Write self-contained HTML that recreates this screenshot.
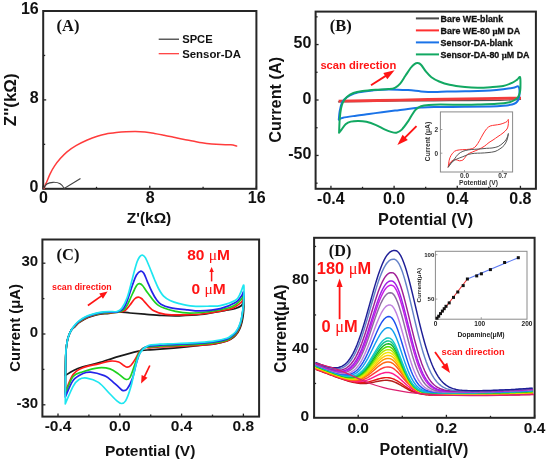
<!DOCTYPE html>
<html><head><meta charset="utf-8"><style>
html,body{margin:0;padding:0;background:#fff;}
svg{display:block;will-change:transform;}
</style></head><body>
<svg width="550" height="462" viewBox="0 0 550 462">
<defs><clipPath id="clipD"><rect x="315.5" y="239" width="218.5" height="178"/></clipPath></defs>
<rect width="550" height="462" fill="#fff"/>
<rect x="43.2" y="11.0" width="213.2" height="177.8" fill="none" stroke="#262626" stroke-width="2"/>
<line x1="43.20" y1="188.8" x2="43.20" y2="185.8" stroke="#262626" stroke-width="1.3"/>
<line x1="43.2" y1="188.80" x2="46.2" y2="188.80" stroke="#262626" stroke-width="1.3"/>
<line x1="96.50" y1="188.8" x2="96.50" y2="186.8" stroke="#262626" stroke-width="1.3"/>
<line x1="43.2" y1="144.35" x2="45.2" y2="144.35" stroke="#262626" stroke-width="1.3"/>
<line x1="149.80" y1="188.8" x2="149.80" y2="185.8" stroke="#262626" stroke-width="1.3"/>
<line x1="43.2" y1="99.90" x2="46.2" y2="99.90" stroke="#262626" stroke-width="1.3"/>
<line x1="203.10" y1="188.8" x2="203.10" y2="186.8" stroke="#262626" stroke-width="1.3"/>
<line x1="43.2" y1="55.45" x2="45.2" y2="55.45" stroke="#262626" stroke-width="1.3"/>
<line x1="256.40" y1="188.8" x2="256.40" y2="185.8" stroke="#262626" stroke-width="1.3"/>
<line x1="43.2" y1="11.00" x2="46.2" y2="11.00" stroke="#262626" stroke-width="1.3"/>
<text x="43.5" y="203.4" font-family="Liberation Sans" font-size="16" font-weight="bold" fill="#111" text-anchor="middle" >0</text>
<text x="150.1" y="203.4" font-family="Liberation Sans" font-size="16" font-weight="bold" fill="#111" text-anchor="middle" >8</text>
<text x="256.7" y="203.4" font-family="Liberation Sans" font-size="16" font-weight="bold" fill="#111" text-anchor="middle" >16</text>
<text x="38.7" y="14.2" font-family="Liberation Sans" font-size="16" font-weight="bold" fill="#111" text-anchor="end" >16</text>
<text x="38.7" y="103.4" font-family="Liberation Sans" font-size="16" font-weight="bold" fill="#111" text-anchor="end" >8</text>
<text x="38.5" y="191.6" font-family="Liberation Sans" font-size="16" font-weight="bold" fill="#111" text-anchor="end" >0</text>
<text x="149.0" y="223" font-family="Liberation Sans" font-size="15.5" font-weight="bold" fill="#111" text-anchor="middle" >Z'(k&#937;)</text>
<text x="16.3" y="99.8" font-family="Liberation Sans" font-size="17" font-weight="bold" fill="#111" text-anchor="middle" transform="rotate(-90 16.3 99.8)" >Z''(k&#937;)</text>
<text x="56.5" y="31.1" font-family="Liberation Serif" font-size="16.5" font-weight="bold" fill="#111" text-anchor="start" >(A)</text>
<line x1="158.7" y1="39.2" x2="179" y2="39.2" stroke="#333" stroke-width="1.2"/>
<line x1="158.7" y1="53.7" x2="179" y2="53.7" stroke="#f33" stroke-width="1.2"/>
<text x="182.2" y="42.5" font-family="Liberation Sans" font-size="11.2" font-weight="bold" fill="#111" text-anchor="start" >SPCE</text>
<text x="182.2" y="57.9" font-family="Liberation Sans" font-size="11.4" font-weight="bold" fill="#111" text-anchor="start" >Sensor-DA</text>
<path d="M44.20,188.50 C44.37,187.92 44.77,186.13 45.20,185.00 C45.63,183.87 45.98,183.57 46.80,181.70 C47.62,179.83 48.80,176.43 50.10,173.80 C51.40,171.17 52.90,168.43 54.60,165.90 C56.30,163.37 58.23,160.95 60.30,158.60 C62.37,156.25 64.38,153.97 67.00,151.80 C69.62,149.63 72.62,147.57 76.00,145.60 C79.38,143.63 83.75,141.57 87.30,140.00 C90.85,138.43 94.18,137.20 97.30,136.20 C100.42,135.20 102.83,134.60 106.00,134.00 C109.17,133.40 112.97,132.97 116.30,132.60 C119.63,132.23 122.82,131.98 126.00,131.80 C129.18,131.62 132.23,131.47 135.40,131.50 C138.57,131.53 141.82,131.68 145.00,132.00 C148.18,132.32 151.33,132.87 154.50,133.40 C157.67,133.93 160.82,134.57 164.00,135.20 C167.18,135.83 170.43,136.53 173.60,137.20 C176.77,137.87 179.82,138.57 183.00,139.20 C186.18,139.83 189.53,140.40 192.70,141.00 C195.87,141.60 198.82,142.30 202.00,142.80 C205.18,143.30 208.63,143.70 211.80,144.00 C214.97,144.30 217.83,144.47 221.00,144.60 C224.17,144.73 228.20,144.57 230.80,144.80 C233.40,145.03 235.63,145.80 236.60,146.00" stroke="#ff3c3c" stroke-width="1.5" fill="none" stroke-linejoin="round" stroke-linecap="round" />
<path d="M44,188.4 C45.5,181 60,179.5 64.2,188.4 L80.5,178.5" stroke="#444" stroke-width="1.2" fill="none"/>
<rect x="315.6" y="11.6" width="220.29999999999995" height="177.20000000000002" fill="none" stroke="#262626" stroke-width="2"/>
<line x1="330.94" y1="188.8" x2="330.94" y2="185.8" stroke="#262626" stroke-width="1.3"/>
<line x1="362.52" y1="188.8" x2="362.52" y2="186.8" stroke="#262626" stroke-width="1.3"/>
<line x1="394.10" y1="188.8" x2="394.10" y2="185.8" stroke="#262626" stroke-width="1.3"/>
<line x1="425.68" y1="188.8" x2="425.68" y2="186.8" stroke="#262626" stroke-width="1.3"/>
<line x1="457.26" y1="188.8" x2="457.26" y2="185.8" stroke="#262626" stroke-width="1.3"/>
<line x1="488.84" y1="188.8" x2="488.84" y2="186.8" stroke="#262626" stroke-width="1.3"/>
<line x1="520.42" y1="188.8" x2="520.42" y2="185.8" stroke="#262626" stroke-width="1.3"/>
<line x1="315.6" y1="183.18" x2="317.6" y2="183.18" stroke="#262626" stroke-width="1.3"/>
<line x1="315.6" y1="155.45" x2="318.6" y2="155.45" stroke="#262626" stroke-width="1.3"/>
<line x1="315.6" y1="127.72" x2="317.6" y2="127.72" stroke="#262626" stroke-width="1.3"/>
<line x1="315.6" y1="100.00" x2="318.6" y2="100.00" stroke="#262626" stroke-width="1.3"/>
<line x1="315.6" y1="72.28" x2="317.6" y2="72.28" stroke="#262626" stroke-width="1.3"/>
<line x1="315.6" y1="44.55" x2="318.6" y2="44.55" stroke="#262626" stroke-width="1.3"/>
<line x1="315.6" y1="16.83" x2="317.6" y2="16.83" stroke="#262626" stroke-width="1.3"/>
<text x="330.9" y="203.9" font-family="Liberation Sans" font-size="16" font-weight="bold" fill="#111" text-anchor="middle" >-0.4</text>
<text x="394.1" y="203.9" font-family="Liberation Sans" font-size="16" font-weight="bold" fill="#111" text-anchor="middle" >0.0</text>
<text x="457.3" y="203.9" font-family="Liberation Sans" font-size="16" font-weight="bold" fill="#111" text-anchor="middle" >0.4</text>
<text x="520.4" y="203.9" font-family="Liberation Sans" font-size="16" font-weight="bold" fill="#111" text-anchor="middle" >0.8</text>
<text x="311.4" y="48.1" font-family="Liberation Sans" font-size="16" font-weight="bold" fill="#111" text-anchor="end" >50</text>
<text x="311.4" y="103.6" font-family="Liberation Sans" font-size="16" font-weight="bold" fill="#111" text-anchor="end" >0</text>
<text x="311.4" y="159.0" font-family="Liberation Sans" font-size="16" font-weight="bold" fill="#111" text-anchor="end" >-50</text>
<text x="425.6" y="224.6" font-family="Liberation Sans" font-size="16.3" font-weight="bold" fill="#111" text-anchor="middle" >Potential (V)</text>
<text x="281.2" y="99.8" font-family="Liberation Sans" font-size="16.3" font-weight="bold" fill="#111" text-anchor="middle" transform="rotate(-90 281.2 99.8)" >Current (A)</text>
<text x="329.8" y="30.9" font-family="Liberation Serif" font-size="16.5" font-weight="bold" fill="#111" text-anchor="start" >(B)</text>
<line x1="415.9" y1="18.40" x2="439.0" y2="18.40" stroke="#4a4a4a" stroke-width="2"/>
<text x="440.6" y="21.50" font-family="Liberation Sans" font-size="8.9" font-weight="bold" fill="#111" text-anchor="start" stroke="#111" stroke-width="0.3">Bare WE-blank</text>
<line x1="415.9" y1="30.40" x2="439.0" y2="30.40" stroke="#ff3030" stroke-width="2"/>
<text x="440.6" y="33.50" font-family="Liberation Sans" font-size="8.9" font-weight="bold" fill="#111" text-anchor="start" stroke="#111" stroke-width="0.3">Bare WE-80 <tspan font-family="Liberation Serif" font-weight="bold">&#956;</tspan>M DA</text>
<line x1="415.9" y1="42.40" x2="439.0" y2="42.40" stroke="#1a73e8" stroke-width="2"/>
<text x="440.6" y="45.50" font-family="Liberation Sans" font-size="8.9" font-weight="bold" fill="#111" text-anchor="start" stroke="#111" stroke-width="0.3">Sensor-DA-blank</text>
<line x1="415.9" y1="54.40" x2="439.0" y2="54.40" stroke="#12a862" stroke-width="2"/>
<text x="440.6" y="57.50" font-family="Liberation Sans" font-size="8.9" font-weight="bold" fill="#111" text-anchor="start" stroke="#111" stroke-width="0.3">Sensor-DA-80 <tspan font-family="Liberation Serif" font-weight="bold">&#956;</tspan>M DA</text>
<text x="320.4" y="69.4" font-family="Liberation Sans" font-size="11.2" font-weight="bold" fill="#ff1414" text-anchor="start" >scan direction</text>
<line x1="371.0" y1="85.2" x2="386.14" y2="75.64" stroke="#ff1414" stroke-width="1.9"/><polygon points="394.60,70.30 387.30,79.34 383.30,73.00" fill="#ff1414"/>
<line x1="416.5" y1="126.1" x2="404.49" y2="138.05" stroke="#ff1414" stroke-width="1.9"/><polygon points="397.40,145.10 402.55,134.68 407.84,140.00" fill="#ff1414"/>
<path d="M338.40,101.80 C348.67,101.67 381.40,101.18 400.00,101.00 C418.60,100.82 433.33,100.82 450.00,100.70 C466.67,100.58 488.25,100.52 500.00,100.30 C511.75,100.08 517.08,99.55 520.50,99.40" stroke="#555" stroke-width="1.2" fill="none" stroke-linejoin="round" stroke-linecap="round" />
<path d="M338.60,101.20 C348.83,101.02 378.93,100.50 400.00,100.10 C421.07,99.70 444.83,99.13 465.00,98.80 C485.17,98.47 511.67,98.22 521.00,98.10" stroke="#f23c3c" stroke-width="2.8" fill="none" stroke-linejoin="round" stroke-linecap="butt" />
<path d="M338.80,119.60 C338.95,118.20 339.22,113.90 339.70,111.20 C340.18,108.50 340.93,105.35 341.70,103.40 C342.47,101.45 343.00,100.80 344.30,99.50 C345.60,98.20 347.12,96.80 349.50,95.60 C351.88,94.40 354.70,93.17 358.60,92.30 C362.50,91.43 367.93,90.88 372.90,90.40 C377.87,89.92 382.55,89.45 388.40,89.40 C394.25,89.35 402.57,89.77 408.00,90.10 C413.43,90.43 416.67,91.08 421.00,91.40 C425.33,91.72 429.67,91.97 434.00,92.00 C438.33,92.03 441.83,91.72 447.00,91.60 C452.17,91.48 459.88,91.38 465.00,91.30 C470.12,91.22 473.45,91.23 477.70,91.10 C481.95,90.97 486.25,90.82 490.50,90.50 C494.75,90.18 499.38,89.67 503.20,89.20 C507.02,88.73 510.85,88.13 513.40,87.70 C515.95,87.27 517.48,85.50 518.50,86.60 C519.52,87.70 519.55,92.07 519.50,94.30 C519.45,96.53 518.80,98.57 518.20,100.00 C517.60,101.43 516.92,102.15 515.90,102.90 C514.88,103.65 514.22,104.03 512.10,104.50 C509.98,104.97 506.80,105.38 503.20,105.70 C499.60,106.02 496.87,106.22 490.50,106.40 C484.13,106.58 474.42,106.70 465.00,106.80 C455.58,106.90 441.33,106.87 434.00,107.00 C426.67,107.13 425.33,107.28 421.00,107.60 C416.67,107.92 412.33,108.40 408.00,108.90 C403.67,109.40 399.33,110.05 395.00,110.60 C390.67,111.15 386.33,111.63 382.00,112.20 C377.67,112.77 373.33,113.42 369.00,114.00 C364.67,114.58 360.33,115.08 356.00,115.70 C351.67,116.32 345.87,117.05 343.00,117.70 C340.13,118.35 339.50,119.28 338.80,119.60" stroke="#1a73e8" stroke-width="2.0" fill="none" stroke-linejoin="round" stroke-linecap="round" />
<path d="M339.10,132.60 C339.20,130.33 339.38,123.00 339.70,119.00 C340.02,115.00 340.45,111.42 341.00,108.60 C341.55,105.78 342.02,104.05 343.00,102.10 C343.98,100.15 345.17,98.42 346.90,96.90 C348.63,95.38 350.80,93.98 353.40,93.00 C356.00,92.02 358.82,91.55 362.50,91.00 C366.18,90.45 371.18,90.02 375.50,89.70 C379.82,89.38 385.17,89.42 388.40,89.10 C391.63,88.78 392.93,88.72 394.90,87.80 C396.87,86.88 398.45,85.60 400.20,83.60 C401.95,81.60 403.67,78.40 405.40,75.80 C407.13,73.20 409.08,69.95 410.60,68.00 C412.12,66.05 413.32,64.92 414.50,64.10 C415.68,63.28 416.62,63.00 417.70,63.10 C418.78,63.20 419.58,63.23 421.00,64.70 C422.42,66.17 424.47,69.82 426.20,71.90 C427.93,73.98 429.23,75.60 431.40,77.20 C433.57,78.80 436.18,80.23 439.20,81.50 C442.22,82.77 445.20,83.88 449.50,84.80 C453.80,85.72 460.30,86.52 465.00,87.00 C469.70,87.48 473.45,87.67 477.70,87.70 C481.95,87.73 486.25,87.48 490.50,87.20 C494.75,86.92 499.60,86.73 503.20,86.00 C506.80,85.27 509.77,83.87 512.10,82.80 C514.43,81.73 515.87,80.52 517.20,79.60 C518.53,78.68 519.57,75.92 520.10,77.30 C520.63,78.68 520.47,85.28 520.40,87.90 C520.33,90.52 520.13,91.40 519.70,93.00 C519.27,94.60 518.65,96.33 517.80,97.50 C516.95,98.67 515.98,99.22 514.60,100.00 C513.22,100.78 512.47,101.57 509.50,102.20 C506.53,102.83 502.10,103.42 496.80,103.80 C491.50,104.18 483.00,104.35 477.70,104.50 C472.40,104.65 471.20,104.68 465.00,104.70 C458.80,104.72 446.53,104.55 440.50,104.60 C434.47,104.65 432.05,104.72 428.80,105.00 C425.55,105.28 423.17,105.55 421.00,106.30 C418.83,107.05 417.32,108.05 415.80,109.50 C414.28,110.95 413.13,113.10 411.90,115.00 C410.67,116.90 410.08,118.47 408.40,120.90 C406.72,123.33 403.80,127.63 401.80,129.60 C399.80,131.57 398.20,132.32 396.40,132.70 C394.60,133.08 392.98,132.45 391.00,131.90 C389.02,131.35 387.08,130.58 384.50,129.40 C381.92,128.22 378.52,126.07 375.50,124.80 C372.48,123.53 369.22,122.45 366.40,121.80 C363.58,121.15 361.20,120.93 358.60,120.90 C356.00,120.87 352.97,121.05 350.80,121.60 C348.63,122.15 347.12,122.90 345.60,124.20 C344.08,125.50 342.78,128.00 341.70,129.40 C340.62,130.80 339.53,132.07 339.10,132.60" stroke="#12a862" stroke-width="2.0" fill="none" stroke-linejoin="round" stroke-linecap="round" />
<rect x="440.4" y="111.9" width="72.20000000000005" height="60.099999999999994" fill="#fff" stroke="#8a8a8a" stroke-width="1"/>
<line x1="440.4" y1="129.5" x2="442.4" y2="129.5" stroke="#888" stroke-width="0.8"/>
<line x1="440.4" y1="153.2" x2="442.4" y2="153.2" stroke="#888" stroke-width="0.8"/>
<line x1="464.5" y1="172.0" x2="464.5" y2="170.0" stroke="#888" stroke-width="0.8"/>
<line x1="502.7" y1="172.0" x2="502.7" y2="170.0" stroke="#888" stroke-width="0.8"/>
<text x="438" y="131.8" font-family="Liberation Sans" font-size="6.5" font-weight="bold" fill="#333" text-anchor="end" >2</text>
<text x="438" y="155.5" font-family="Liberation Sans" font-size="6.5" font-weight="bold" fill="#333" text-anchor="end" >0</text>
<text x="464.5" y="178" font-family="Liberation Sans" font-size="6.5" font-weight="bold" fill="#333" text-anchor="middle" >0.0</text>
<text x="502.7" y="178" font-family="Liberation Sans" font-size="6.5" font-weight="bold" fill="#333" text-anchor="middle" >0.7</text>
<text x="478.5" y="185.3" font-family="Liberation Sans" font-size="6.7" font-weight="bold" fill="#333" text-anchor="middle" >Potential (V)</text>
<text x="429.5" y="141.5" font-family="Liberation Sans" font-size="6.7" font-weight="bold" fill="#333" text-anchor="middle" transform="rotate(-90 429.5 141.5)" >Current (&#956;A)</text>
<path d="M448.30,166.80 C448.45,165.70 448.75,162.08 449.20,160.20 C449.65,158.32 450.12,156.98 451.00,155.50 C451.88,154.02 453.12,152.23 454.50,151.30 C455.88,150.37 457.32,150.20 459.30,149.90 C461.28,149.60 464.22,149.72 466.40,149.50 C468.58,149.28 470.80,149.18 472.40,148.60 C474.00,148.02 474.82,147.33 476.00,146.00 C477.18,144.67 478.32,142.60 479.50,140.60 C480.68,138.60 481.90,135.98 483.10,134.00 C484.30,132.02 485.52,130.03 486.70,128.70 C487.88,127.37 488.82,126.60 490.20,126.00 C491.58,125.40 493.37,125.38 495.00,125.10 C496.63,124.82 498.50,124.65 500.00,124.30 C501.50,123.95 502.83,123.47 504.00,123.00 C505.17,122.53 506.27,122.08 507.00,121.50 C507.73,120.92 508.20,118.92 508.40,119.50 C508.60,120.08 508.43,123.42 508.20,125.00 C507.97,126.58 507.87,127.67 507.00,129.00 C506.13,130.33 504.50,131.75 503.00,133.00 C501.50,134.25 499.67,135.33 498.00,136.50 C496.33,137.67 494.50,139.00 493.00,140.00 C491.50,141.00 490.45,141.45 489.00,142.50 C487.55,143.55 486.08,145.13 484.30,146.30 C482.52,147.47 480.28,148.55 478.30,149.50 C476.32,150.45 474.18,151.20 472.40,152.00 C470.62,152.80 468.80,153.42 467.60,154.30 C466.40,155.18 465.98,156.35 465.20,157.30 C464.42,158.25 463.88,159.42 462.90,160.00 C461.92,160.58 460.50,160.87 459.30,160.80 C458.10,160.73 456.90,159.60 455.70,159.60 C454.50,159.60 453.08,160.20 452.10,160.80 C451.12,161.40 450.43,162.20 449.80,163.20 C449.17,164.20 448.55,166.20 448.30,166.80" stroke="#ff3030" stroke-width="1.0" fill="none" stroke-linejoin="round" stroke-linecap="round" />
<path d="M448.30,167.00 C448.75,166.37 449.97,164.53 451.00,163.20 C452.03,161.87 453.32,160.48 454.50,159.00 C455.68,157.52 456.70,155.58 458.10,154.30 C459.50,153.02 461.12,152.05 462.90,151.30 C464.68,150.55 466.82,150.13 468.80,149.80 C470.78,149.47 472.82,149.45 474.80,149.30 C476.78,149.15 478.72,149.07 480.70,148.90 C482.68,148.73 484.82,148.45 486.70,148.30 C488.58,148.15 490.08,148.30 492.00,148.00 C493.92,147.70 496.37,147.33 498.20,146.50 C500.03,145.67 501.62,144.25 503.00,143.00 C504.38,141.75 505.60,140.58 506.50,139.00 C507.40,137.42 508.32,133.33 508.40,133.50 C508.48,133.67 507.73,138.00 507.00,140.00 C506.27,142.00 505.17,144.03 504.00,145.50 C502.83,146.97 501.50,147.80 500.00,148.80 C498.50,149.80 497.00,150.87 495.00,151.50 C493.00,152.13 490.38,152.33 488.00,152.60 C485.62,152.87 482.90,152.98 480.70,153.10 C478.50,153.22 476.78,153.10 474.80,153.30 C472.82,153.50 470.78,153.73 468.80,154.30 C466.82,154.87 464.88,155.92 462.90,156.70 C460.92,157.48 458.70,158.12 456.90,159.00 C455.10,159.88 453.53,160.67 452.10,162.00 C450.67,163.33 448.93,166.17 448.30,167.00" stroke="#555" stroke-width="1.0" fill="none" stroke-linejoin="round" stroke-linecap="round" />
<rect x="42.4" y="239.5" width="216.70000000000002" height="177.10000000000002" fill="none" stroke="#262626" stroke-width="2"/>
<line x1="58.00" y1="416.6" x2="58.00" y2="413.6" stroke="#262626" stroke-width="1.3"/>
<line x1="88.90" y1="416.6" x2="88.90" y2="414.6" stroke="#262626" stroke-width="1.3"/>
<line x1="119.80" y1="416.6" x2="119.80" y2="413.6" stroke="#262626" stroke-width="1.3"/>
<line x1="150.70" y1="416.6" x2="150.70" y2="414.6" stroke="#262626" stroke-width="1.3"/>
<line x1="181.60" y1="416.6" x2="181.60" y2="413.6" stroke="#262626" stroke-width="1.3"/>
<line x1="212.50" y1="416.6" x2="212.50" y2="414.6" stroke="#262626" stroke-width="1.3"/>
<line x1="243.40" y1="416.6" x2="243.40" y2="413.6" stroke="#262626" stroke-width="1.3"/>
<line x1="42.4" y1="404.80" x2="45.4" y2="404.80" stroke="#262626" stroke-width="1.3"/>
<line x1="42.4" y1="369.40" x2="44.4" y2="369.40" stroke="#262626" stroke-width="1.3"/>
<line x1="42.4" y1="334.00" x2="45.4" y2="334.00" stroke="#262626" stroke-width="1.3"/>
<line x1="42.4" y1="298.60" x2="44.4" y2="298.60" stroke="#262626" stroke-width="1.3"/>
<line x1="42.4" y1="263.20" x2="45.4" y2="263.20" stroke="#262626" stroke-width="1.3"/>
<text x="58.0" y="431.2" font-family="Liberation Sans" font-size="15.5" font-weight="bold" fill="#111" text-anchor="middle" >-0.4</text>
<text x="119.8" y="431.2" font-family="Liberation Sans" font-size="15.5" font-weight="bold" fill="#111" text-anchor="middle" >0.0</text>
<text x="181.6" y="431.2" font-family="Liberation Sans" font-size="15.5" font-weight="bold" fill="#111" text-anchor="middle" >0.4</text>
<text x="243.4" y="431.2" font-family="Liberation Sans" font-size="15.5" font-weight="bold" fill="#111" text-anchor="middle" >0.8</text>
<text x="38.2" y="266.2" font-family="Liberation Sans" font-size="15" font-weight="bold" fill="#111" text-anchor="end" >30</text>
<text x="38.2" y="337.0" font-family="Liberation Sans" font-size="15" font-weight="bold" fill="#111" text-anchor="end" >0</text>
<text x="38.2" y="407.8" font-family="Liberation Sans" font-size="15" font-weight="bold" fill="#111" text-anchor="end" >-30</text>
<text x="150.1" y="455.8" font-family="Liberation Sans" font-size="15.5" font-weight="bold" fill="#111" text-anchor="middle" >Potential (V)</text>
<text x="19.6" y="327.8" font-family="Liberation Sans" font-size="14.9" font-weight="bold" fill="#111" text-anchor="middle" transform="rotate(-90 19.6 327.8)" >Current (&#956;A)</text>
<text x="56.5" y="260.0" font-family="Liberation Serif" font-size="16.5" font-weight="bold" fill="#111" text-anchor="start" >(C)</text>
<text x="52.0" y="289.5" font-family="Liberation Sans" font-size="8.8" font-weight="bold" fill="#ff1414" text-anchor="start" >scan direction</text>
<line x1="87.9" y1="305.5" x2="101.88" y2="295.64" stroke="#ff1414" stroke-width="1.7"/><polygon points="107.60,291.60 102.94,298.87 99.19,293.56" fill="#ff1414"/>
<line x1="149.8" y1="365.5" x2="144.13" y2="377.29" stroke="#ff1414" stroke-width="1.7"/><polygon points="141.10,383.60 141.64,374.98 147.49,377.80" fill="#ff1414"/>
<text x="208.6" y="260.4" font-family="Liberation Sans" font-size="15.5" font-weight="bold" fill="#ff1414" text-anchor="middle" >80 <tspan font-family="Liberation Serif" font-weight="normal">&#956;</tspan>M</text>
<text x="208.6" y="293.8" font-family="Liberation Sans" font-size="15.5" font-weight="bold" fill="#ff1414" text-anchor="middle" >0 <tspan font-family="Liberation Serif" font-weight="normal">&#956;</tspan>M</text>
<line x1="211.6" y1="281.4" x2="211.60" y2="271.00" stroke="#ff1414" stroke-width="1.5"/><polygon points="211.60,267.00 213.85,272.00 209.35,272.00" fill="#ff1414"/>
<path d="M65.30,375.60 C65.37,372.50 65.50,361.93 65.70,357.00 C65.90,352.07 66.18,348.92 66.50,346.00 C66.82,343.08 67.15,341.42 67.60,339.50 C68.05,337.58 68.55,336.12 69.20,334.50 C69.85,332.88 70.57,331.08 71.50,329.80 C72.43,328.52 73.55,327.98 74.80,326.80 C76.05,325.62 77.30,324.02 79.00,322.70 C80.70,321.38 82.83,319.98 85.00,318.90 C87.17,317.82 89.50,316.98 92.00,316.20 C94.50,315.42 97.17,314.67 100.00,314.20 C102.83,313.73 105.88,313.80 109.00,313.40 C112.12,313.00 115.20,311.87 118.70,311.80 C122.20,311.73 125.68,312.60 130.00,313.00 C134.32,313.40 139.28,313.78 144.60,314.20 C149.92,314.62 156.13,315.23 161.90,315.50 C167.67,315.77 172.70,315.97 179.20,315.80 C185.70,315.63 193.33,315.37 200.90,314.50 C208.47,313.63 218.83,311.60 224.60,310.60 C230.37,309.60 232.68,309.35 235.50,308.50 C238.32,307.65 240.17,306.58 241.50,305.50 C242.83,304.42 243.13,301.25 243.50,302.00 C243.87,302.75 243.83,307.25 243.70,310.00 C243.57,312.75 243.20,315.75 242.70,318.50 C242.20,321.25 241.52,324.17 240.70,326.50 C239.88,328.83 239.00,330.70 237.80,332.50 C236.60,334.30 235.30,335.88 233.50,337.30 C231.70,338.72 230.08,339.92 227.00,341.00 C223.92,342.08 219.50,343.07 215.00,343.80 C210.50,344.53 204.77,344.87 200.00,345.40 C195.23,345.93 193.07,346.37 186.40,347.00 C179.73,347.63 166.07,348.73 160.00,349.20 C153.93,349.67 153.75,349.45 150.00,349.80 C146.25,350.15 142.83,350.17 137.50,351.30 C132.17,352.43 124.50,354.67 118.00,356.60 C111.50,358.53 104.35,361.20 98.50,362.90 C92.65,364.60 87.13,365.50 82.90,366.80 C78.67,368.10 76.03,369.23 73.10,370.70 C70.17,372.17 66.60,374.78 65.30,375.60" stroke="#1a1a1a" stroke-width="1.7" fill="none" stroke-linejoin="round" stroke-linecap="round" />
<path d="M65.30,392.10 C65.37,386.25 65.50,364.68 65.70,357.00 C65.90,349.32 66.18,348.92 66.50,346.00 C66.82,343.08 67.15,341.42 67.60,339.50 C68.05,337.58 68.55,336.12 69.20,334.50 C69.85,332.88 70.57,331.16 71.50,329.80 C72.43,328.44 73.55,327.61 74.80,326.35 C76.05,325.09 77.30,323.57 79.00,322.25 C80.70,320.93 82.83,319.53 85.00,318.45 C87.17,317.37 89.50,316.53 92.00,315.75 C94.50,314.97 97.17,314.22 100.00,313.75 C102.83,313.28 105.97,313.21 109.00,312.95 C112.03,312.69 115.53,312.61 118.20,312.20 C120.87,311.79 123.03,311.70 125.00,310.50 C126.97,309.30 128.42,306.92 130.00,305.00 C131.58,303.08 133.13,300.32 134.50,299.00 C135.87,297.68 137.03,297.18 138.20,297.10 C139.37,297.02 140.43,297.70 141.50,298.50 C142.57,299.30 142.63,299.88 144.60,301.90 C146.57,303.92 149.83,308.53 153.30,310.60 C156.77,312.67 159.28,313.62 165.40,314.30 C171.52,314.98 182.57,314.92 190.00,314.70 C197.43,314.48 203.67,313.87 210.00,313.00 C216.33,312.13 223.75,310.57 228.00,309.50 C232.25,308.43 233.25,307.85 235.50,306.60 C237.75,305.35 240.17,303.30 241.50,302.00 C242.83,300.70 243.13,298.90 243.50,298.80 C243.87,298.70 243.82,299.16 243.70,301.40 C243.58,303.64 243.25,308.64 242.80,312.24 C242.35,315.84 241.70,320.07 241.00,323.00 C240.30,325.93 239.52,327.83 238.60,329.80 C237.68,331.77 236.77,333.33 235.50,334.80 C234.23,336.27 232.47,337.57 231.00,338.60 C229.53,339.63 229.37,340.17 226.70,341.00 C224.03,341.83 219.45,342.92 215.00,343.60 C210.55,344.28 206.28,344.65 200.00,345.10 C193.72,345.55 183.97,345.98 177.30,346.30 C170.63,346.62 164.55,346.75 160.00,347.00 C155.45,347.25 152.33,347.72 150.00,347.80 C147.67,347.88 147.18,347.37 146.00,347.50 C144.82,347.63 144.00,347.92 142.90,348.60 C141.80,349.28 140.70,349.80 139.40,351.60 C138.10,353.40 136.53,357.08 135.10,359.40 C133.67,361.72 132.10,364.20 130.80,365.50 C129.50,366.80 128.47,367.20 127.30,367.20 C126.13,367.20 125.23,366.37 123.80,365.50 C122.37,364.63 121.00,362.73 118.70,362.00 C116.40,361.27 113.37,360.78 110.00,361.10 C106.63,361.42 103.02,362.78 98.50,363.90 C93.98,365.02 87.13,366.02 82.90,367.80 C78.67,369.58 76.03,370.55 73.10,374.60 C70.17,378.65 66.60,389.18 65.30,392.10" stroke="#ff1a1a" stroke-width="1.7" fill="none" stroke-linejoin="round" stroke-linecap="round" />
<path d="M65.30,394.10 C65.37,387.92 65.50,365.02 65.70,357.00 C65.90,348.98 66.18,348.92 66.50,346.00 C66.82,343.08 67.15,341.42 67.60,339.50 C68.05,337.58 68.55,336.12 69.20,334.50 C69.85,332.88 70.57,331.23 71.50,329.80 C72.43,328.37 73.55,327.23 74.80,325.90 C76.05,324.57 77.30,323.12 79.00,321.80 C80.70,320.48 82.83,319.08 85.00,318.00 C87.17,316.92 89.50,316.08 92.00,315.30 C94.50,314.52 97.17,313.77 100.00,313.30 C102.83,312.83 106.00,312.68 109.00,312.50 C112.00,312.32 115.50,312.70 118.00,312.20 C120.50,311.70 122.45,310.70 124.00,309.50 C125.55,308.30 126.13,307.08 127.30,305.00 C128.47,302.92 129.80,299.58 131.00,297.00 C132.20,294.42 133.50,291.50 134.50,289.50 C135.50,287.50 136.18,285.97 137.00,285.00 C137.82,284.03 138.48,283.62 139.40,283.70 C140.32,283.78 141.07,283.90 142.50,285.50 C143.93,287.10 145.35,289.98 148.00,293.30 C150.65,296.62 153.78,302.38 158.40,305.40 C163.02,308.42 170.43,310.10 175.70,311.40 C180.97,312.70 184.28,313.18 190.00,313.20 C195.72,313.22 203.67,312.37 210.00,311.50 C216.33,310.63 223.75,309.12 228.00,308.00 C232.25,306.88 233.25,306.30 235.50,304.80 C237.75,303.30 240.17,300.63 241.50,299.00 C242.83,297.37 243.13,294.68 243.50,295.00 C243.87,295.32 243.82,298.20 243.70,300.95 C243.58,303.70 243.25,308.00 242.80,311.52 C242.35,315.04 241.70,319.20 241.00,322.10 C240.30,325.00 239.52,326.93 238.60,328.90 C237.68,330.87 236.77,332.43 235.50,333.90 C234.23,335.37 232.47,336.67 231.00,337.70 C229.53,338.73 229.37,339.27 226.70,340.10 C224.03,340.93 219.45,342.02 215.00,342.70 C210.55,343.38 206.28,343.75 200.00,344.20 C193.72,344.65 183.97,345.08 177.30,345.40 C170.63,345.72 164.55,345.85 160.00,346.10 C155.45,346.35 152.33,346.72 150.00,346.90 C147.67,347.08 147.18,346.95 146.00,347.20 C144.82,347.45 144.15,347.23 142.90,348.40 C141.65,349.57 139.95,351.22 138.50,354.20 C137.05,357.18 135.63,362.40 134.20,366.30 C132.77,370.20 131.33,375.43 129.90,377.60 C128.47,379.77 127.47,379.88 125.60,379.30 C123.73,378.72 121.30,375.83 118.70,374.10 C116.10,372.37 113.37,369.95 110.00,368.90 C106.63,367.85 103.02,367.33 98.50,367.80 C93.98,368.27 87.13,370.25 82.90,371.70 C78.67,373.15 76.03,372.77 73.10,376.50 C70.17,380.23 66.60,391.17 65.30,394.10" stroke="#1fd21f" stroke-width="1.7" fill="none" stroke-linejoin="round" stroke-linecap="round" />
<path d="M65.30,397.00 C65.37,390.33 65.50,365.50 65.70,357.00 C65.90,348.50 66.18,348.92 66.50,346.00 C66.82,343.08 67.15,341.42 67.60,339.50 C68.05,337.58 68.55,336.12 69.20,334.50 C69.85,332.88 70.57,331.31 71.50,329.80 C72.43,328.29 73.55,326.86 74.80,325.45 C76.05,324.04 77.30,322.67 79.00,321.35 C80.70,320.03 82.83,318.63 85.00,317.55 C87.17,316.47 89.50,315.63 92.00,314.85 C94.50,314.07 97.17,313.32 100.00,312.85 C102.83,312.38 106.08,312.19 109.00,312.05 C111.92,311.91 115.07,312.64 117.50,312.00 C119.93,311.36 121.93,310.20 123.60,308.20 C125.27,306.20 126.02,303.87 127.50,300.00 C128.98,296.13 131.00,289.17 132.50,285.00 C134.00,280.83 135.12,277.32 136.50,275.00 C137.88,272.68 139.58,271.40 140.80,271.10 C142.02,270.80 142.72,271.50 143.80,273.20 C144.88,274.90 145.97,278.25 147.30,281.30 C148.63,284.35 150.28,288.45 151.80,291.50 C153.32,294.55 154.88,297.48 156.40,299.60 C157.92,301.72 158.63,302.87 160.90,304.20 C163.17,305.53 165.50,306.65 170.00,307.60 C174.50,308.55 182.90,309.35 187.90,309.90 C192.90,310.45 194.60,311.12 200.00,310.90 C205.40,310.68 214.38,309.98 220.30,308.60 C226.22,307.22 231.97,304.70 235.50,302.60 C239.03,300.50 240.17,297.77 241.50,296.00 C242.83,294.23 243.13,291.26 243.50,292.00 C243.87,292.74 243.82,297.33 243.70,300.45 C243.58,303.57 243.25,307.28 242.80,310.72 C242.35,314.16 241.70,318.24 241.00,321.10 C240.30,323.96 239.52,325.93 238.60,327.90 C237.68,329.87 236.77,331.43 235.50,332.90 C234.23,334.37 232.47,335.67 231.00,336.70 C229.53,337.73 229.37,338.27 226.70,339.10 C224.03,339.93 219.45,341.02 215.00,341.70 C210.55,342.38 206.28,342.75 200.00,343.20 C193.72,343.65 183.97,344.08 177.30,344.40 C170.63,344.72 164.55,344.85 160.00,345.10 C155.45,345.35 152.33,345.58 150.00,345.90 C147.67,346.22 147.18,346.53 146.00,347.00 C144.82,347.47 144.00,347.50 142.90,348.70 C141.80,349.90 140.55,351.55 139.40,354.20 C138.25,356.85 137.15,360.57 136.00,364.60 C134.85,368.63 133.95,374.37 132.50,378.40 C131.05,382.43 128.88,386.77 127.30,388.80 C125.72,390.83 124.43,390.88 123.00,390.60 C121.57,390.32 120.87,388.98 118.70,387.10 C116.53,385.22 112.40,381.22 110.00,379.30 C107.60,377.38 107.52,376.78 104.30,375.60 C101.08,374.42 94.27,372.53 90.70,372.20 C87.13,371.87 85.83,372.23 82.90,373.60 C79.97,374.97 76.03,376.50 73.10,380.40 C70.17,384.30 66.60,394.23 65.30,397.00" stroke="#2424e8" stroke-width="1.7" fill="none" stroke-linejoin="round" stroke-linecap="round" />
<path d="M65.30,403.80 C65.37,396.00 65.50,366.63 65.70,357.00 C65.90,347.37 66.18,348.92 66.50,346.00 C66.82,343.08 67.15,341.42 67.60,339.50 C68.05,337.58 68.55,336.12 69.20,334.50 C69.85,332.88 70.57,331.38 71.50,329.80 C72.43,328.22 73.55,326.48 74.80,325.00 C76.05,323.52 77.30,322.22 79.00,320.90 C80.70,319.58 82.83,318.18 85.00,317.10 C87.17,316.02 89.50,315.18 92.00,314.40 C94.50,313.62 97.17,312.87 100.00,312.40 C102.83,311.93 106.17,311.75 109.00,311.60 C111.83,311.45 114.87,312.07 117.00,311.50 C119.13,310.93 120.08,310.58 121.80,308.20 C123.52,305.82 125.68,301.57 127.30,297.20 C128.92,292.83 130.30,286.45 131.50,282.00 C132.70,277.55 133.55,273.92 134.50,270.50 C135.45,267.08 136.32,263.82 137.20,261.50 C138.08,259.18 138.92,257.65 139.80,256.60 C140.68,255.55 141.55,255.00 142.50,255.20 C143.45,255.40 144.20,255.50 145.50,257.80 C146.80,260.10 148.80,265.38 150.30,269.00 C151.80,272.62 153.13,276.25 154.50,279.50 C155.87,282.75 156.98,285.72 158.50,288.50 C160.02,291.28 161.68,294.20 163.60,296.20 C165.52,298.20 167.40,299.27 170.00,300.50 C172.60,301.73 175.37,302.65 179.20,303.60 C183.03,304.55 187.87,305.77 193.00,306.20 C198.13,306.63 205.45,306.30 210.00,306.20 C214.55,306.10 216.05,306.58 220.30,305.60 C224.55,304.62 232.13,302.40 235.50,300.30 C238.87,298.20 239.12,295.52 240.50,293.00 C241.88,290.48 243.27,284.03 243.80,285.20 C244.33,286.37 243.87,295.87 243.70,300.00 C243.53,304.13 243.25,306.63 242.80,310.00 C242.35,313.37 241.70,317.37 241.00,320.20 C240.30,323.03 239.52,325.03 238.60,327.00 C237.68,328.97 236.77,330.53 235.50,332.00 C234.23,333.47 232.47,334.77 231.00,335.80 C229.53,336.83 229.37,337.37 226.70,338.20 C224.03,339.03 219.45,340.12 215.00,340.80 C210.55,341.48 206.28,341.85 200.00,342.30 C193.72,342.75 183.97,343.18 177.30,343.50 C170.63,343.82 164.55,343.95 160.00,344.20 C155.45,344.45 152.28,344.57 150.00,345.00 C147.72,345.43 147.48,346.07 146.30,346.80 C145.12,347.53 144.20,347.87 142.90,349.40 C141.60,350.93 139.80,352.88 138.50,356.00 C137.20,359.12 136.38,362.92 135.10,368.10 C133.82,373.28 132.38,381.63 130.80,387.10 C129.22,392.57 127.20,398.17 125.60,400.90 C124.00,403.63 122.65,403.50 121.20,403.50 C119.75,403.50 118.77,402.48 116.90,400.90 C115.03,399.32 113.07,397.08 110.00,394.00 C106.93,390.92 102.37,385.05 98.50,382.40 C94.63,379.75 90.05,378.58 86.80,378.10 C83.55,377.62 81.28,378.13 79.00,379.50 C76.72,380.87 75.38,382.25 73.10,386.30 C70.82,390.35 66.60,400.88 65.30,403.80" stroke="#1ee6f0" stroke-width="1.7" fill="none" stroke-linejoin="round" stroke-linecap="round" />
<rect x="314.1" y="237.8" width="220.5" height="180.0" fill="none" stroke="#262626" stroke-width="2"/>
<line x1="314.10" y1="417.8" x2="314.10" y2="415.8" stroke="#262626" stroke-width="1.3"/>
<line x1="358.20" y1="417.8" x2="358.20" y2="414.8" stroke="#262626" stroke-width="1.3"/>
<line x1="402.30" y1="417.8" x2="402.30" y2="415.8" stroke="#262626" stroke-width="1.3"/>
<line x1="446.40" y1="417.8" x2="446.40" y2="414.8" stroke="#262626" stroke-width="1.3"/>
<line x1="490.50" y1="417.8" x2="490.50" y2="415.8" stroke="#262626" stroke-width="1.3"/>
<line x1="534.60" y1="417.8" x2="534.60" y2="414.8" stroke="#262626" stroke-width="1.3"/>
<line x1="314.1" y1="383.45" x2="316.1" y2="383.45" stroke="#262626" stroke-width="1.3"/>
<line x1="314.1" y1="349.20" x2="317.1" y2="349.20" stroke="#262626" stroke-width="1.3"/>
<line x1="314.1" y1="314.95" x2="316.1" y2="314.95" stroke="#262626" stroke-width="1.3"/>
<line x1="314.1" y1="280.70" x2="317.1" y2="280.70" stroke="#262626" stroke-width="1.3"/>
<line x1="314.1" y1="246.45" x2="316.1" y2="246.45" stroke="#262626" stroke-width="1.3"/>
<text x="358.2" y="432.7" font-family="Liberation Sans" font-size="15.5" font-weight="bold" fill="#111" text-anchor="middle" >0.0</text>
<text x="446.4" y="432.7" font-family="Liberation Sans" font-size="15.5" font-weight="bold" fill="#111" text-anchor="middle" >0.2</text>
<text x="534.6" y="432.7" font-family="Liberation Sans" font-size="15.5" font-weight="bold" fill="#111" text-anchor="middle" >0.4</text>
<text x="309.2" y="284.2" font-family="Liberation Sans" font-size="15.5" font-weight="bold" fill="#111" text-anchor="end" >80</text>
<text x="309.2" y="352.7" font-family="Liberation Sans" font-size="15.5" font-weight="bold" fill="#111" text-anchor="end" >40</text>
<text x="309.2" y="421.2" font-family="Liberation Sans" font-size="15.5" font-weight="bold" fill="#111" text-anchor="end" >0</text>
<text x="423.9" y="455.3" font-family="Liberation Sans" font-size="16" font-weight="bold" fill="#111" text-anchor="middle" >Potential(V)</text>
<text x="286.0" y="328.7" font-family="Liberation Sans" font-size="15.8" font-weight="bold" fill="#111" text-anchor="middle" transform="rotate(-90 286.0 328.7)" >Current(&#956;A)</text>
<text x="328.8" y="255.6" font-family="Liberation Serif" font-size="16.2" font-weight="bold" fill="#111" text-anchor="start" >(D)</text>
<text x="344.0" y="273.8" font-family="Liberation Sans" font-size="16.4" font-weight="bold" fill="#ff1414" text-anchor="middle" >180 <tspan font-family="Liberation Serif" font-weight="normal">&#956;</tspan>M</text>
<text x="339.6" y="332.3" font-family="Liberation Sans" font-size="16.4" font-weight="bold" fill="#ff1414" text-anchor="middle" >0 <tspan font-family="Liberation Serif" font-weight="normal">&#956;</tspan>M</text>
<line x1="339.6" y1="319.2" x2="339.60" y2="286.10" stroke="#ff1414" stroke-width="1.8"/><polygon points="339.60,278.60 342.60,287.10 336.60,287.10" fill="#ff1414"/>
<text x="441.6" y="355" font-family="Liberation Sans" font-size="9.3" font-weight="bold" fill="#ff1414" text-anchor="start" >scan direction</text>
<line x1="435" y1="352" x2="444.77" y2="365.68" stroke="#ff1414" stroke-width="1.8"/><polygon points="450.00,373.00 441.14,367.04 447.24,362.68" fill="#ff1414"/>
<g clip-path="url(#clipD)">
<polyline points="315.20,369.14 316.70,369.71 318.20,370.28 319.70,370.84 321.20,371.41 322.70,371.98 324.20,372.54 325.70,373.11 327.20,373.67 328.70,374.23 330.20,374.79 331.70,375.35 333.20,375.91 334.70,376.46 336.20,377.01 337.70,377.56 339.20,378.09 340.70,378.62 342.20,379.14 343.70,379.65 345.20,380.14 346.70,380.62 348.20,381.07 349.70,381.50 351.20,381.90 352.70,382.27 354.20,382.60 355.70,382.88 357.20,383.13 358.70,383.32 360.20,383.45 361.70,383.53 363.20,383.55 364.70,383.51 366.20,383.41 367.70,383.26 369.20,383.05 370.70,382.80 372.20,382.51 373.70,382.20 375.20,381.87 376.70,381.54 378.20,381.22 379.70,380.93 381.20,380.68 382.70,380.48 384.20,380.35 385.70,380.30 387.20,380.34 388.70,380.46 390.20,380.69 391.70,381.04 393.20,381.50 394.70,382.07 396.20,382.74 397.70,383.49 399.20,384.30 400.70,385.16 402.20,386.05 403.70,386.94 405.20,387.83 406.70,388.68 408.20,389.50 409.70,390.27 411.20,390.98 412.70,391.63 414.20,392.20 415.70,392.72 417.20,393.17 418.70,393.55 420.20,393.88 421.70,394.15 423.20,394.38 424.70,394.57 426.20,394.72 427.70,394.85 429.20,394.95 430.70,395.02 432.20,395.08 433.70,395.13 435.20,395.17 436.70,395.19 438.20,395.22 439.70,395.23 441.20,395.24 442.70,395.25 444.20,395.26 445.70,395.27 447.20,395.27 448.70,395.28 450.20,395.28 451.70,395.28 453.20,395.29 454.70,395.29 456.20,395.29 457.70,395.29 459.20,395.29 460.70,395.29 462.20,395.29 463.70,395.29 465.20,395.29 466.70,395.29 468.20,395.29 469.70,395.29 471.20,395.29 472.70,395.28 474.20,395.28 475.70,395.27 477.20,395.27 478.70,395.26 480.20,395.25 481.70,395.24 483.20,395.23 484.70,395.22 486.20,395.20 487.70,395.19 489.20,395.18 490.70,395.16 492.20,395.14 493.70,395.13 495.20,395.11 496.70,395.09 498.20,395.07 499.70,395.05 501.20,395.02 502.70,395.00 504.20,394.98 505.70,394.95 507.20,394.93 508.70,394.90 510.20,394.87 511.70,394.84 513.20,394.81 514.70,394.78 516.20,394.75 517.70,394.72 519.20,394.68 520.70,394.65 522.20,394.61 523.70,394.58 525.20,394.54 526.70,394.50 528.20,394.46 529.70,394.42 531.20,394.38 532.70,394.34" stroke="#b41e1e" stroke-width="1.45" fill="none" stroke-linejoin="round"/>
<polyline points="315.20,368.82 316.70,369.39 318.20,369.96 319.70,370.53 321.20,371.10 322.70,371.67 324.20,372.24 325.70,372.80 327.20,373.37 328.70,373.93 330.20,374.50 331.70,375.06 333.20,375.61 334.70,376.17 336.20,376.72 337.70,377.26 339.20,377.79 340.70,378.32 342.20,378.83 343.70,379.33 345.20,379.82 346.70,380.28 348.20,380.72 349.70,381.13 351.20,381.50 352.70,381.83 354.20,382.12 355.70,382.37 357.20,382.55 358.70,382.68 360.20,382.74 361.70,382.73 363.20,382.66 364.70,382.51 366.20,382.30 367.70,382.02 369.20,381.69 370.70,381.30 372.20,380.87 373.70,380.41 375.20,379.94 376.70,379.47 378.20,379.02 379.70,378.60 381.20,378.24 382.70,377.94 384.20,377.73 385.70,377.62 387.20,377.61 388.70,377.72 390.20,377.95 391.70,378.33 393.20,378.86 394.70,379.52 396.20,380.30 397.70,381.18 399.20,382.13 400.70,383.15 402.20,384.20 403.70,385.26 405.20,386.30 406.70,387.32 408.20,388.29 409.70,389.20 411.20,390.04 412.70,390.80 414.20,391.48 415.70,392.09 417.20,392.61 418.70,393.07 420.20,393.45 421.70,393.77 423.20,394.04 424.70,394.26 426.20,394.44 427.70,394.58 429.20,394.69 430.70,394.78 432.20,394.85 433.70,394.90 435.20,394.94 436.70,394.97 438.20,395.00 439.70,395.01 441.20,395.03 442.70,395.04 444.20,395.05 445.70,395.05 447.20,395.06 448.70,395.06 450.20,395.07 451.70,395.07 453.20,395.07 454.70,395.07 456.20,395.07 457.70,395.08 459.20,395.08 460.70,395.08 462.20,395.08 463.70,395.08 465.20,395.08 466.70,395.08 468.20,395.08 469.70,395.08 471.20,395.07 472.70,395.07 474.20,395.06 475.70,395.06 477.20,395.05 478.70,395.04 480.20,395.03 481.70,395.02 483.20,395.01 484.70,395.00 486.20,394.98 487.70,394.97 489.20,394.95 490.70,394.93 492.20,394.92 493.70,394.90 495.20,394.88 496.70,394.86 498.20,394.83 499.70,394.81 501.20,394.79 502.70,394.76 504.20,394.74 505.70,394.71 507.20,394.68 508.70,394.65 510.20,394.62 511.70,394.59 513.20,394.56 514.70,394.52 516.20,394.49 517.70,394.45 519.20,394.42 520.70,394.38 522.20,394.34 523.70,394.30 525.20,394.26 526.70,394.22 528.20,394.17 529.70,394.13 531.20,394.09 532.70,394.04" stroke="#e61414" stroke-width="1.45" fill="none" stroke-linejoin="round"/>
<polyline points="315.20,368.50 316.70,369.08 318.20,369.65 319.70,370.22 321.20,370.79 322.70,371.36 324.20,371.93 325.70,372.50 327.20,373.07 328.70,373.63 330.20,374.20 331.70,374.76 333.20,375.31 334.70,375.86 336.20,376.41 337.70,376.95 339.20,377.48 340.70,378.00 342.20,378.50 343.70,378.98 345.20,379.44 346.70,379.88 348.20,380.28 349.70,380.64 351.20,380.96 352.70,381.23 354.20,381.44 355.70,381.58 357.20,381.66 358.70,381.65 360.20,381.57 361.70,381.39 363.20,381.13 364.70,380.78 366.20,380.34 367.70,379.81 369.20,379.22 370.70,378.56 372.20,377.85 373.70,377.11 375.20,376.36 376.70,375.61 378.20,374.90 379.70,374.24 381.20,373.65 382.70,373.17 384.20,372.81 385.70,372.58 387.20,372.50 388.70,372.58 390.20,372.83 391.70,373.29 393.20,373.94 394.70,374.78 396.20,375.78 397.70,376.92 399.20,378.17 400.70,379.49 402.20,380.86 403.70,382.24 405.20,383.61 406.70,384.93 408.20,386.20 409.70,387.38 411.20,388.46 412.70,389.45 414.20,390.33 415.70,391.11 417.20,391.78 418.70,392.36 420.20,392.85 421.70,393.26 423.20,393.60 424.70,393.87 426.20,394.09 427.70,394.27 429.20,394.40 430.70,394.51 432.20,394.60 433.70,394.66 435.20,394.71 436.70,394.75 438.20,394.77 439.70,394.79 441.20,394.81 442.70,394.82 444.20,394.83 445.70,394.84 447.20,394.84 448.70,394.85 450.20,394.85 451.70,394.85 453.20,394.86 454.70,394.86 456.20,394.86 457.70,394.86 459.20,394.86 460.70,394.86 462.20,394.86 463.70,394.87 465.20,394.87 466.70,394.87 468.20,394.86 469.70,394.86 471.20,394.86 472.70,394.85 474.20,394.85 475.70,394.84 477.20,394.83 478.70,394.82 480.20,394.81 481.70,394.80 483.20,394.79 484.70,394.77 486.20,394.76 487.70,394.74 489.20,394.73 490.70,394.71 492.20,394.69 493.70,394.67 495.20,394.65 496.70,394.62 498.20,394.60 499.70,394.57 501.20,394.55 502.70,394.52 504.20,394.49 505.70,394.46 507.20,394.43 508.70,394.40 510.20,394.37 511.70,394.33 513.20,394.30 514.70,394.26 516.20,394.23 517.70,394.19 519.20,394.15 520.70,394.11 522.20,394.07 523.70,394.02 525.20,393.98 526.70,393.93 528.20,393.89 529.70,393.84 531.20,393.79 532.70,393.74" stroke="#ff1a8c" stroke-width="1.45" fill="none" stroke-linejoin="round"/>
<polyline points="315.20,368.18 316.70,368.76 318.20,369.33 319.70,369.91 321.20,370.48 322.70,371.05 324.20,371.62 325.70,372.19 327.20,372.76 328.70,373.33 330.20,373.90 331.70,374.46 333.20,375.01 334.70,375.56 336.20,376.11 337.70,376.64 339.20,377.17 340.70,377.67 342.20,378.16 343.70,378.63 345.20,379.07 346.70,379.48 348.20,379.85 349.70,380.17 351.20,380.43 352.70,380.63 354.20,380.76 355.70,380.81 357.20,380.77 358.70,380.64 360.20,380.40 361.70,380.05 363.20,379.59 364.70,379.02 366.20,378.34 367.70,377.56 369.20,376.69 370.70,375.73 372.20,374.72 373.70,373.67 375.20,372.60 376.70,371.55 378.20,370.54 379.70,369.60 381.20,368.75 382.70,368.04 384.20,367.49 385.70,367.10 387.20,366.92 388.70,366.94 390.20,367.18 391.70,367.68 393.20,368.45 394.70,369.47 396.20,370.70 397.70,372.11 399.20,373.67 400.70,375.34 402.20,377.06 403.70,378.81 405.20,380.54 406.70,382.22 408.20,383.81 409.70,385.31 411.20,386.68 412.70,387.93 414.20,389.04 415.70,390.02 417.20,390.86 418.70,391.59 420.20,392.20 421.70,392.70 423.20,393.12 424.70,393.46 426.20,393.73 427.70,393.94 429.20,394.11 430.70,394.24 432.20,394.34 433.70,394.42 435.20,394.47 436.70,394.52 438.20,394.55 439.70,394.57 441.20,394.59 442.70,394.60 444.20,394.61 445.70,394.62 447.20,394.63 448.70,394.63 450.20,394.64 451.70,394.64 453.20,394.64 454.70,394.64 456.20,394.65 457.70,394.65 459.20,394.65 460.70,394.65 462.20,394.65 463.70,394.65 465.20,394.65 466.70,394.65 468.20,394.65 469.70,394.65 471.20,394.64 472.70,394.64 474.20,394.63 475.70,394.62 477.20,394.62 478.70,394.61 480.20,394.59 481.70,394.58 483.20,394.57 484.70,394.55 486.20,394.54 487.70,394.52 489.20,394.50 490.70,394.48 492.20,394.46 493.70,394.44 495.20,394.42 496.70,394.39 498.20,394.37 499.70,394.34 501.20,394.31 502.70,394.28 504.20,394.25 505.70,394.22 507.20,394.19 508.70,394.15 510.20,394.12 511.70,394.08 513.20,394.04 514.70,394.00 516.20,393.96 517.70,393.92 519.20,393.88 520.70,393.84 522.20,393.79 523.70,393.75 525.20,393.70 526.70,393.65 528.20,393.60 529.70,393.55 531.20,393.50 532.70,393.45" stroke="#ff3c3c" stroke-width="1.45" fill="none" stroke-linejoin="round"/>
<polyline points="315.20,367.87 316.70,368.44 318.20,369.02 319.70,369.59 321.20,370.17 322.70,370.74 324.20,371.32 325.70,371.89 327.20,372.46 328.70,373.03 330.20,373.59 331.70,374.16 333.20,374.71 334.70,375.26 336.20,375.80 337.70,376.34 339.20,376.85 340.70,377.35 342.20,377.83 343.70,378.28 345.20,378.70 346.70,379.08 348.20,379.42 349.70,379.69 351.20,379.91 352.70,380.05 354.20,380.10 355.70,380.06 357.20,379.91 358.70,379.65 360.20,379.27 361.70,378.76 363.20,378.12 364.70,377.35 366.20,376.45 367.70,375.43 369.20,374.30 370.70,373.09 372.20,371.81 373.70,370.48 375.20,369.14 376.70,367.82 378.20,366.55 379.70,365.37 381.20,364.31 382.70,363.41 384.20,362.70 385.70,362.20 387.20,361.94 388.70,361.92 390.20,362.18 391.70,362.78 393.20,363.72 394.70,364.96 396.20,366.48 397.70,368.23 399.20,370.16 400.70,372.21 402.20,374.32 403.70,376.44 405.20,378.54 406.70,380.55 408.20,382.45 409.70,384.21 411.20,385.81 412.70,387.25 414.20,388.51 415.70,389.61 417.20,390.54 418.70,391.33 420.20,391.99 421.70,392.52 423.20,392.96 424.70,393.30 426.20,393.57 427.70,393.78 429.20,393.94 430.70,394.07 432.20,394.16 433.70,394.23 435.20,394.28 436.70,394.32 438.20,394.35 439.70,394.37 441.20,394.38 442.70,394.40 444.20,394.40 445.70,394.41 447.20,394.42 448.70,394.42 450.20,394.42 451.70,394.43 453.20,394.43 454.70,394.43 456.20,394.43 457.70,394.43 459.20,394.43 460.70,394.44 462.20,394.44 463.70,394.44 465.20,394.44 466.70,394.44 468.20,394.44 469.70,394.43 471.20,394.43 472.70,394.42 474.20,394.42 475.70,394.41 477.20,394.40 478.70,394.39 480.20,394.38 481.70,394.36 483.20,394.35 484.70,394.33 486.20,394.32 487.70,394.30 489.20,394.28 490.70,394.26 492.20,394.23 493.70,394.21 495.20,394.19 496.70,394.16 498.20,394.13 499.70,394.10 501.20,394.07 502.70,394.04 504.20,394.01 505.70,393.98 507.20,393.94 508.70,393.90 510.20,393.87 511.70,393.83 513.20,393.79 514.70,393.75 516.20,393.70 517.70,393.66 519.20,393.61 520.70,393.57 522.20,393.52 523.70,393.47 525.20,393.42 526.70,393.37 528.20,393.32 529.70,393.26 531.20,393.21 532.70,393.15" stroke="#ff6414" stroke-width="1.45" fill="none" stroke-linejoin="round"/>
<polyline points="315.20,367.55 316.70,368.13 318.20,368.70 319.70,369.28 321.20,369.86 322.70,370.44 324.20,371.01 325.70,371.59 327.20,372.16 328.70,372.73 330.20,373.30 331.70,373.86 333.20,374.42 334.70,374.97 336.20,375.51 337.70,376.04 339.20,376.55 340.70,377.05 342.20,377.52 343.70,377.96 345.20,378.37 346.70,378.73 348.20,379.05 349.70,379.30 351.20,379.48 352.70,379.58 354.20,379.59 355.70,379.49 357.20,379.27 358.70,378.93 360.20,378.46 361.70,377.84 363.20,377.08 364.70,376.18 366.20,375.13 367.70,373.96 369.20,372.67 370.70,371.27 372.20,369.81 373.70,368.29 375.20,366.76 376.70,365.25 378.20,363.80 379.70,362.45 381.20,361.24 382.70,360.21 384.20,359.38 385.70,358.79 387.20,358.46 388.70,358.41 390.20,358.67 391.70,359.32 393.20,360.37 394.70,361.78 396.20,363.50 397.70,365.49 399.20,367.68 400.70,370.01 402.20,372.40 403.70,374.80 405.20,377.15 406.70,379.40 408.20,381.51 409.70,383.46 411.20,385.22 412.70,386.78 414.20,388.14 415.70,389.31 417.20,390.30 418.70,391.13 420.20,391.81 421.70,392.36 423.20,392.79 424.70,393.14 426.20,393.41 427.70,393.61 429.20,393.77 430.70,393.88 432.20,393.97 433.70,394.04 435.20,394.08 436.70,394.12 438.20,394.14 439.70,394.16 441.20,394.17 442.70,394.18 444.20,394.19 445.70,394.20 447.20,394.20 448.70,394.21 450.20,394.21 451.70,394.21 453.20,394.21 454.70,394.22 456.20,394.22 457.70,394.22 459.20,394.22 460.70,394.22 462.20,394.22 463.70,394.22 465.20,394.22 466.70,394.22 468.20,394.22 469.70,394.22 471.20,394.21 472.70,394.21 474.20,394.20 475.70,394.19 477.20,394.18 478.70,394.17 480.20,394.16 481.70,394.14 483.20,394.13 484.70,394.11 486.20,394.09 487.70,394.07 489.20,394.05 490.70,394.03 492.20,394.01 493.70,393.98 495.20,393.95 496.70,393.93 498.20,393.90 499.70,393.87 501.20,393.84 502.70,393.80 504.20,393.77 505.70,393.73 507.20,393.69 508.70,393.66 510.20,393.62 511.70,393.57 513.20,393.53 514.70,393.49 516.20,393.44 517.70,393.40 519.20,393.35 520.70,393.30 522.20,393.25 523.70,393.19 525.20,393.14 526.70,393.09 528.20,393.03 529.70,392.97 531.20,392.91 532.70,392.85" stroke="#ff9600" stroke-width="1.45" fill="none" stroke-linejoin="round"/>
<polyline points="315.20,367.23 316.70,367.81 318.20,368.39 319.70,368.97 321.20,369.55 322.70,370.13 324.20,370.71 325.70,371.28 327.20,371.86 328.70,372.43 330.20,373.00 331.70,373.56 333.20,374.12 334.70,374.67 336.20,375.21 337.70,375.74 339.20,376.25 340.70,376.74 342.20,377.21 343.70,377.65 345.20,378.05 346.70,378.40 348.20,378.69 349.70,378.92 351.20,379.08 352.70,379.14 354.20,379.11 355.70,378.96 357.20,378.68 358.70,378.28 360.20,377.72 361.70,377.02 363.20,376.16 364.70,375.14 366.20,373.97 367.70,372.67 369.20,371.23 370.70,369.69 372.20,368.06 373.70,366.39 375.20,364.70 376.70,363.04 378.20,361.44 379.70,359.94 381.20,358.60 382.70,357.45 384.20,356.53 385.70,355.87 387.20,355.49 388.70,355.41 390.20,355.66 391.70,356.37 393.20,357.52 394.70,359.08 396.20,360.99 397.70,363.20 399.20,365.63 400.70,368.21 402.20,370.85 403.70,373.49 405.20,376.07 406.70,378.52 408.20,380.81 409.70,382.90 411.20,384.78 412.70,386.44 414.20,387.87 415.70,389.10 417.20,390.12 418.70,390.97 420.20,391.66 421.70,392.21 423.20,392.64 424.70,392.98 426.20,393.24 427.70,393.44 429.20,393.59 430.70,393.70 432.20,393.78 433.70,393.84 435.20,393.88 436.70,393.91 438.20,393.93 439.70,393.95 441.20,393.96 442.70,393.97 444.20,393.98 445.70,393.98 447.20,393.99 448.70,393.99 450.20,393.99 451.70,394.00 453.20,394.00 454.70,394.00 456.20,394.00 457.70,394.00 459.20,394.01 460.70,394.01 462.20,394.01 463.70,394.01 465.20,394.01 466.70,394.01 468.20,394.01 469.70,394.00 471.20,394.00 472.70,393.99 474.20,393.98 475.70,393.98 477.20,393.96 478.70,393.95 480.20,393.94 481.70,393.92 483.20,393.91 484.70,393.89 486.20,393.87 487.70,393.85 489.20,393.83 490.70,393.80 492.20,393.78 493.70,393.75 495.20,393.72 496.70,393.69 498.20,393.66 499.70,393.63 501.20,393.60 502.70,393.56 504.20,393.53 505.70,393.49 507.20,393.45 508.70,393.41 510.20,393.36 511.70,393.32 513.20,393.28 514.70,393.23 516.20,393.18 517.70,393.13 519.20,393.08 520.70,393.03 522.20,392.97 523.70,392.92 525.20,392.86 526.70,392.80 528.20,392.74 529.70,392.68 531.20,392.62 532.70,392.56" stroke="#ffc800" stroke-width="1.45" fill="none" stroke-linejoin="round"/>
<polyline points="315.20,366.91 316.70,367.49 318.20,368.08 319.70,368.66 321.20,369.24 322.70,369.82 324.20,370.40 325.70,370.98 327.20,371.56 328.70,372.13 330.20,372.70 331.70,373.26 333.20,373.82 334.70,374.37 336.20,374.91 337.70,375.44 339.20,375.95 340.70,376.44 342.20,376.90 343.70,377.32 345.20,377.71 346.70,378.04 348.20,378.32 349.70,378.52 351.20,378.65 352.70,378.67 354.20,378.59 355.70,378.39 357.20,378.05 358.70,377.56 360.20,376.93 361.70,376.12 363.20,375.16 364.70,374.02 366.20,372.73 367.70,371.29 369.20,369.71 370.70,368.01 372.20,366.24 373.70,364.41 375.20,362.57 376.70,360.76 378.20,359.02 379.70,357.41 381.20,355.95 382.70,354.71 384.20,353.71 385.70,353.00 387.20,352.59 388.70,352.51 390.20,352.80 391.70,353.59 393.20,354.87 394.70,356.62 396.20,358.75 397.70,361.20 399.20,363.89 400.70,366.72 402.20,369.62 403.70,372.49 405.20,375.28 406.70,377.91 408.20,380.35 409.70,382.57 411.20,384.54 412.70,386.27 414.20,387.75 415.70,389.00 417.20,390.04 418.70,390.89 420.20,391.57 421.70,392.11 423.20,392.53 424.70,392.85 426.20,393.10 427.70,393.28 429.20,393.42 430.70,393.52 432.20,393.59 433.70,393.64 435.20,393.68 436.70,393.71 438.20,393.73 439.70,393.74 441.20,393.75 442.70,393.76 444.20,393.77 445.70,393.77 447.20,393.77 448.70,393.78 450.20,393.78 451.70,393.78 453.20,393.79 454.70,393.79 456.20,393.79 457.70,393.79 459.20,393.79 460.70,393.79 462.20,393.79 463.70,393.79 465.20,393.79 466.70,393.79 468.20,393.79 469.70,393.79 471.20,393.78 472.70,393.78 474.20,393.77 475.70,393.76 477.20,393.75 478.70,393.74 480.20,393.72 481.70,393.70 483.20,393.69 484.70,393.67 486.20,393.65 487.70,393.63 489.20,393.60 490.70,393.58 492.20,393.55 493.70,393.52 495.20,393.49 496.70,393.46 498.20,393.43 499.70,393.40 501.20,393.36 502.70,393.32 504.20,393.28 505.70,393.24 507.20,393.20 508.70,393.16 510.20,393.11 511.70,393.07 513.20,393.02 514.70,392.97 516.20,392.92 517.70,392.87 519.20,392.81 520.70,392.76 522.20,392.70 523.70,392.64 525.20,392.58 526.70,392.52 528.20,392.46 529.70,392.39 531.20,392.33 532.70,392.26" stroke="#f0e600" stroke-width="1.45" fill="none" stroke-linejoin="round"/>
<polyline points="315.20,366.59 316.70,367.18 318.20,367.76 319.70,368.35 321.20,368.93 322.70,369.51 324.20,370.09 325.70,370.67 327.20,371.25 328.70,371.83 330.20,372.40 331.70,372.96 333.20,373.52 334.70,374.07 336.20,374.61 337.70,375.14 339.20,375.64 340.70,376.13 342.20,376.58 343.70,377.00 345.20,377.37 346.70,377.69 348.20,377.94 349.70,378.12 351.20,378.20 352.70,378.19 354.20,378.06 355.70,377.80 357.20,377.39 358.70,376.83 360.20,376.10 361.70,375.20 363.20,374.13 364.70,372.87 366.20,371.45 367.70,369.87 369.20,368.15 370.70,366.30 372.20,364.38 373.70,362.40 375.20,360.41 376.70,358.45 378.20,356.58 379.70,354.84 381.20,353.29 382.70,351.95 384.20,350.89 385.70,350.13 387.20,349.70 388.70,349.61 390.20,349.93 391.70,350.81 393.20,352.23 394.70,354.14 396.20,356.48 397.70,359.15 399.20,362.08 400.70,365.15 402.20,368.27 403.70,371.36 405.20,374.35 406.70,377.15 408.20,379.75 409.70,382.08 411.20,384.16 412.70,385.96 414.20,387.49 415.70,388.78 417.20,389.84 418.70,390.71 420.20,391.39 421.70,391.93 423.20,392.35 424.70,392.67 426.20,392.91 427.70,393.09 429.20,393.22 430.70,393.32 432.20,393.39 433.70,393.43 435.20,393.47 436.70,393.50 438.20,393.51 439.70,393.53 441.20,393.54 442.70,393.55 444.20,393.55 445.70,393.56 447.20,393.56 448.70,393.56 450.20,393.57 451.70,393.57 453.20,393.57 454.70,393.57 456.20,393.57 457.70,393.58 459.20,393.58 460.70,393.58 462.20,393.58 463.70,393.58 465.20,393.58 466.70,393.58 468.20,393.58 469.70,393.57 471.20,393.57 472.70,393.56 474.20,393.55 475.70,393.54 477.20,393.53 478.70,393.52 480.20,393.50 481.70,393.49 483.20,393.47 484.70,393.45 486.20,393.43 487.70,393.40 489.20,393.38 490.70,393.35 492.20,393.32 493.70,393.29 495.20,393.26 496.70,393.23 498.20,393.20 499.70,393.16 501.20,393.12 502.70,393.08 504.20,393.04 505.70,393.00 507.20,392.96 508.70,392.91 510.20,392.86 511.70,392.81 513.20,392.76 514.70,392.71 516.20,392.66 517.70,392.60 519.20,392.55 520.70,392.49 522.20,392.43 523.70,392.37 525.20,392.30 526.70,392.24 528.20,392.17 529.70,392.10 531.20,392.03 532.70,391.96" stroke="#b4e600" stroke-width="1.45" fill="none" stroke-linejoin="round"/>
<polyline points="315.20,366.27 316.70,366.86 318.20,367.45 319.70,368.03 321.20,368.62 322.70,369.20 324.20,369.79 325.70,370.37 327.20,370.95 328.70,371.53 330.20,372.10 331.70,372.67 333.20,373.23 334.70,373.78 336.20,374.31 337.70,374.83 339.20,375.34 340.70,375.81 342.20,376.26 343.70,376.66 345.20,377.02 346.70,377.32 348.20,377.55 349.70,377.70 351.20,377.75 352.70,377.69 354.20,377.51 355.70,377.19 357.20,376.71 358.70,376.07 360.20,375.25 361.70,374.25 363.20,373.06 364.70,371.69 366.20,370.13 367.70,368.41 369.20,366.54 370.70,364.55 372.20,362.47 373.70,360.34 375.20,358.21 376.70,356.11 378.20,354.11 379.70,352.26 381.20,350.60 382.70,349.18 384.20,348.05 385.70,347.25 387.20,346.80 388.70,346.72 390.20,347.07 391.70,348.03 393.20,349.58 394.70,351.65 396.20,354.18 397.70,357.06 399.20,360.20 400.70,363.49 402.20,366.83 403.70,370.13 405.20,373.29 406.70,376.27 408.20,379.01 409.70,381.47 411.20,383.65 412.70,385.53 414.20,387.13 415.70,388.47 417.20,389.57 418.70,390.46 420.20,391.16 421.70,391.71 423.20,392.14 424.70,392.46 426.20,392.70 427.70,392.88 429.20,393.01 430.70,393.11 432.20,393.17 433.70,393.22 435.20,393.26 436.70,393.28 438.20,393.30 439.70,393.31 441.20,393.32 442.70,393.33 444.20,393.34 445.70,393.34 447.20,393.35 448.70,393.35 450.20,393.35 451.70,393.35 453.20,393.36 454.70,393.36 456.20,393.36 457.70,393.36 459.20,393.36 460.70,393.36 462.20,393.36 463.70,393.37 465.20,393.37 466.70,393.37 468.20,393.36 469.70,393.36 471.20,393.35 472.70,393.35 474.20,393.34 475.70,393.33 477.20,393.31 478.70,393.30 480.20,393.28 481.70,393.27 483.20,393.25 484.70,393.23 486.20,393.20 487.70,393.18 489.20,393.15 490.70,393.13 492.20,393.10 493.70,393.06 495.20,393.03 496.70,393.00 498.20,392.96 499.70,392.92 501.20,392.88 502.70,392.84 504.20,392.80 505.70,392.75 507.20,392.71 508.70,392.66 510.20,392.61 511.70,392.56 513.20,392.51 514.70,392.45 516.20,392.40 517.70,392.34 519.20,392.28 520.70,392.22 522.20,392.15 523.70,392.09 525.20,392.02 526.70,391.95 528.20,391.89 529.70,391.81 531.20,391.74 532.70,391.67" stroke="#50dc00" stroke-width="1.45" fill="none" stroke-linejoin="round"/>
<polyline points="315.20,365.95 316.70,366.54 318.20,367.13 319.70,367.72 321.20,368.31 322.70,368.90 324.20,369.48 325.70,370.07 327.20,370.65 328.70,371.23 330.20,371.80 331.70,372.37 333.20,372.93 334.70,373.48 336.20,374.01 337.70,374.53 339.20,375.03 340.70,375.50 342.20,375.94 343.70,376.33 345.20,376.68 346.70,376.96 348.20,377.17 349.70,377.29 351.20,377.31 352.70,377.21 354.20,376.98 355.70,376.60 357.20,376.06 358.70,375.35 360.20,374.45 361.70,373.35 363.20,372.06 364.70,370.57 366.20,368.89 367.70,367.03 369.20,365.02 370.70,362.89 372.20,360.66 373.70,358.38 375.20,356.10 376.70,353.87 378.20,351.73 379.70,349.75 381.20,347.98 382.70,346.47 384.20,345.26 385.70,344.40 387.20,343.91 388.70,343.81 390.20,344.18 391.70,345.20 393.20,346.84 394.70,349.05 396.20,351.75 397.70,354.83 399.20,358.18 400.70,361.69 402.20,365.24 403.70,368.75 405.20,372.11 406.70,375.27 408.20,378.17 409.70,380.77 411.20,383.06 412.70,385.04 414.20,386.71 415.70,388.11 417.20,389.25 418.70,390.17 420.20,390.90 421.70,391.47 423.20,391.91 424.70,392.24 426.20,392.48 427.70,392.67 429.20,392.80 430.70,392.89 432.20,392.96 433.70,393.01 435.20,393.04 436.70,393.07 438.20,393.09 439.70,393.10 441.20,393.11 442.70,393.12 444.20,393.12 445.70,393.13 447.20,393.13 448.70,393.14 450.20,393.14 451.70,393.14 453.20,393.14 454.70,393.14 456.20,393.15 457.70,393.15 459.20,393.15 460.70,393.15 462.20,393.15 463.70,393.15 465.20,393.15 466.70,393.15 468.20,393.15 469.70,393.14 471.20,393.14 472.70,393.13 474.20,393.12 475.70,393.11 477.20,393.10 478.70,393.08 480.20,393.07 481.70,393.05 483.20,393.03 484.70,393.00 486.20,392.98 487.70,392.96 489.20,392.93 490.70,392.90 492.20,392.87 493.70,392.84 495.20,392.80 496.70,392.76 498.20,392.73 499.70,392.69 501.20,392.65 502.70,392.60 504.20,392.56 505.70,392.51 507.20,392.46 508.70,392.41 510.20,392.36 511.70,392.31 513.20,392.25 514.70,392.19 516.20,392.13 517.70,392.07 519.20,392.01 520.70,391.95 522.20,391.88 523.70,391.81 525.20,391.74 526.70,391.67 528.20,391.60 529.70,391.52 531.20,391.45 532.70,391.37" stroke="#14b428" stroke-width="1.45" fill="none" stroke-linejoin="round"/>
<polyline points="315.20,365.63 316.70,366.23 318.20,366.82 319.70,367.41 321.20,368.00 322.70,368.59 324.20,369.18 325.70,369.76 327.20,370.34 328.70,370.92 330.20,371.50 331.70,372.07 333.20,372.63 334.70,373.17 336.20,373.71 337.70,374.23 339.20,374.72 340.70,375.18 342.20,375.61 343.70,375.99 345.20,376.32 346.70,376.58 348.20,376.76 349.70,376.84 351.20,376.82 352.70,376.68 354.20,376.39 355.70,375.95 357.20,375.33 358.70,374.53 360.20,373.53 361.70,372.32 363.20,370.91 364.70,369.30 366.20,367.48 367.70,365.49 369.20,363.33 370.70,361.05 372.20,358.67 373.70,356.25 375.20,353.83 376.70,351.46 378.20,349.20 379.70,347.11 381.20,345.25 382.70,343.66 384.20,342.40 385.70,341.51 387.20,341.00 388.70,340.92 390.20,341.33 391.70,342.44 393.20,344.22 394.70,346.61 396.20,349.50 397.70,352.79 399.20,356.37 400.70,360.10 402.20,363.88 403.70,367.59 405.20,371.14 406.70,374.46 408.20,377.50 409.70,380.22 411.20,382.61 412.70,384.66 414.20,386.39 415.70,387.83 417.20,389.01 418.70,389.95 420.20,390.69 421.70,391.26 423.20,391.70 424.70,392.03 426.20,392.28 427.70,392.46 429.20,392.59 430.70,392.68 432.20,392.75 433.70,392.80 435.20,392.83 436.70,392.86 438.20,392.87 439.70,392.89 441.20,392.90 442.70,392.90 444.20,392.91 445.70,392.91 447.20,392.92 448.70,392.92 450.20,392.92 451.70,392.93 453.20,392.93 454.70,392.93 456.20,392.93 457.70,392.93 459.20,392.93 460.70,392.93 462.20,392.94 463.70,392.94 465.20,392.94 466.70,392.94 468.20,392.93 469.70,392.93 471.20,392.92 472.70,392.92 474.20,392.91 475.70,392.89 477.20,392.88 478.70,392.86 480.20,392.85 481.70,392.83 483.20,392.81 484.70,392.78 486.20,392.76 487.70,392.73 489.20,392.70 490.70,392.67 492.20,392.64 493.70,392.61 495.20,392.57 496.70,392.53 498.20,392.49 499.70,392.45 501.20,392.41 502.70,392.36 504.20,392.32 505.70,392.27 507.20,392.22 508.70,392.16 510.20,392.11 511.70,392.05 513.20,391.99 514.70,391.93 516.20,391.87 517.70,391.81 519.20,391.74 520.70,391.68 522.20,391.61 523.70,391.54 525.20,391.46 526.70,391.39 528.20,391.31 529.70,391.23 531.20,391.15 532.70,391.07" stroke="#14c88c" stroke-width="1.45" fill="none" stroke-linejoin="round"/>
<polyline points="315.20,365.31 316.70,365.91 318.20,366.50 319.70,367.10 321.20,367.69 322.70,368.28 324.20,368.87 325.70,369.46 327.20,370.04 328.70,370.62 330.20,371.20 331.70,371.77 333.20,372.33 334.70,372.87 336.20,373.41 337.70,373.92 339.20,374.41 340.70,374.86 342.20,375.28 343.70,375.65 345.20,375.96 346.70,376.20 348.20,376.35 349.70,376.40 351.20,376.34 352.70,376.15 354.20,375.81 355.70,375.30 357.20,374.61 358.70,373.73 360.20,372.63 361.70,371.33 363.20,369.80 364.70,368.06 366.20,366.12 367.70,363.98 369.20,361.68 370.70,359.25 372.20,356.72 373.70,354.15 375.20,351.58 376.70,349.07 378.20,346.68 379.70,344.48 381.20,342.51 382.70,340.83 384.20,339.50 385.70,338.55 387.20,338.02 388.70,337.92 390.20,338.34 391.70,339.51 393.20,341.39 394.70,343.92 396.20,346.98 397.70,350.47 399.20,354.26 400.70,358.21 402.20,362.21 403.70,366.13 405.20,369.88 406.70,373.39 408.20,376.59 409.70,379.45 411.20,381.96 412.70,384.11 414.20,385.93 415.70,387.43 417.20,388.66 418.70,389.64 420.20,390.41 421.70,391.00 423.20,391.46 424.70,391.80 426.20,392.05 427.70,392.24 429.20,392.37 430.70,392.47 432.20,392.54 433.70,392.58 435.20,392.62 436.70,392.64 438.20,392.66 439.70,392.67 441.20,392.68 442.70,392.69 444.20,392.69 445.70,392.70 447.20,392.70 448.70,392.71 450.20,392.71 451.70,392.71 453.20,392.71 454.70,392.72 456.20,392.72 457.70,392.72 459.20,392.72 460.70,392.72 462.20,392.72 463.70,392.72 465.20,392.72 466.70,392.72 468.20,392.72 469.70,392.72 471.20,392.71 472.70,392.70 474.20,392.69 475.70,392.68 477.20,392.66 478.70,392.65 480.20,392.63 481.70,392.61 483.20,392.59 484.70,392.56 486.20,392.54 487.70,392.51 489.20,392.48 490.70,392.45 492.20,392.41 493.70,392.38 495.20,392.34 496.70,392.30 498.20,392.26 499.70,392.22 501.20,392.17 502.70,392.12 504.20,392.07 505.70,392.02 507.20,391.97 508.70,391.91 510.20,391.86 511.70,391.80 513.20,391.74 514.70,391.68 516.20,391.61 517.70,391.55 519.20,391.48 520.70,391.41 522.20,391.33 523.70,391.26 525.20,391.18 526.70,391.11 528.20,391.03 529.70,390.94 531.20,390.86 532.70,390.78" stroke="#14c8c8" stroke-width="1.45" fill="none" stroke-linejoin="round"/>
<polyline points="315.20,364.99 316.70,365.59 318.20,366.19 319.70,366.78 321.20,367.38 322.70,367.97 324.20,368.56 325.70,369.15 327.20,369.73 328.70,370.31 330.20,370.88 331.70,371.44 333.20,371.99 334.70,372.52 336.20,373.03 337.70,373.52 339.20,373.97 340.70,374.39 342.20,374.75 343.70,375.05 345.20,375.27 346.70,375.40 348.20,375.43 349.70,375.33 351.20,375.09 352.70,374.69 354.20,374.11 355.70,373.32 357.20,372.32 358.70,371.09 360.20,369.61 361.70,367.88 363.20,365.90 364.70,363.68 366.20,361.23 367.70,358.57 369.20,355.74 370.70,352.77 372.20,349.71 373.70,346.62 375.20,343.55 376.70,340.58 378.20,337.77 379.70,335.19 381.20,332.89 382.70,330.96 384.20,329.42 385.70,328.34 387.20,327.73 388.70,327.62 390.20,328.10 391.70,329.38 393.20,331.43 394.70,334.17 396.20,337.52 397.70,341.34 399.20,345.52 400.70,349.92 402.20,354.41 403.70,358.88 405.20,363.20 406.70,367.31 408.20,371.12 409.70,374.59 411.20,377.69 412.70,380.41 414.20,382.75 415.70,384.74 417.20,386.40 418.70,387.77 420.20,388.87 421.70,389.74 423.20,390.43 424.70,390.96 426.20,391.37 427.70,391.68 429.20,391.90 430.70,392.07 432.20,392.19 433.70,392.28 435.20,392.34 436.70,392.39 438.20,392.42 439.70,392.44 441.20,392.46 442.70,392.47 444.20,392.48 445.70,392.48 447.20,392.49 448.70,392.49 450.20,392.49 451.70,392.50 453.20,392.50 454.70,392.50 456.20,392.50 457.70,392.50 459.20,392.51 460.70,392.51 462.20,392.51 463.70,392.51 465.20,392.51 466.70,392.51 468.20,392.51 469.70,392.50 471.20,392.49 472.70,392.49 474.20,392.47 475.70,392.46 477.20,392.45 478.70,392.43 480.20,392.41 481.70,392.39 483.20,392.37 484.70,392.34 486.20,392.31 487.70,392.28 489.20,392.25 490.70,392.22 492.20,392.19 493.70,392.15 495.20,392.11 496.70,392.07 498.20,392.02 499.70,391.98 501.20,391.93 502.70,391.88 504.20,391.83 505.70,391.78 507.20,391.72 508.70,391.67 510.20,391.61 511.70,391.55 513.20,391.48 514.70,391.42 516.20,391.35 517.70,391.28 519.20,391.21 520.70,391.14 522.20,391.06 523.70,390.98 525.20,390.90 526.70,390.82 528.20,390.74 529.70,390.66 531.20,390.57 532.70,390.48" stroke="#14a0f0" stroke-width="1.45" fill="none" stroke-linejoin="round"/>
<polyline points="315.20,364.67 316.70,365.27 318.20,365.87 319.70,366.47 321.20,367.06 322.70,367.65 324.20,368.24 325.70,368.83 327.20,369.41 328.70,369.98 330.20,370.55 331.70,371.10 333.20,371.64 334.70,372.15 336.20,372.64 337.70,373.10 339.20,373.51 340.70,373.87 342.20,374.17 343.70,374.40 345.20,374.53 346.70,374.55 348.20,374.44 349.70,374.19 351.20,373.77 352.70,373.15 354.20,372.33 355.70,371.27 357.20,369.96 358.70,368.39 360.20,366.54 361.70,364.41 363.20,362.01 364.70,359.33 366.20,356.40 367.70,353.25 369.20,349.91 370.70,346.43 372.20,342.85 373.70,339.25 375.20,335.68 376.70,332.22 378.20,328.95 379.70,325.93 381.20,323.23 382.70,320.92 384.20,319.06 385.70,317.68 387.20,316.82 388.70,316.50 390.20,316.74 391.70,317.79 393.20,319.69 394.70,322.36 396.20,325.73 397.70,329.69 399.20,334.11 400.70,338.86 402.20,343.81 403.70,348.82 405.20,353.78 406.70,358.58 408.20,363.13 409.70,367.37 411.20,371.24 412.70,374.72 414.20,377.80 415.70,380.48 417.20,382.78 418.70,384.71 420.20,386.32 421.70,387.65 423.20,388.71 424.70,389.57 426.20,390.24 427.70,390.76 429.20,391.16 430.70,391.46 432.20,391.68 433.70,391.85 435.20,391.97 436.70,392.06 438.20,392.13 439.70,392.17 441.20,392.21 442.70,392.23 444.20,392.25 445.70,392.26 447.20,392.27 448.70,392.27 450.20,392.28 451.70,392.28 453.20,392.28 454.70,392.29 456.20,392.29 457.70,392.29 459.20,392.29 460.70,392.29 462.20,392.29 463.70,392.29 465.20,392.29 466.70,392.29 468.20,392.29 469.70,392.29 471.20,392.28 472.70,392.27 474.20,392.26 475.70,392.24 477.20,392.23 478.70,392.21 480.20,392.19 481.70,392.17 483.20,392.15 484.70,392.12 486.20,392.09 487.70,392.06 489.20,392.03 490.70,391.99 492.20,391.96 493.70,391.92 495.20,391.88 496.70,391.84 498.20,391.79 499.70,391.74 501.20,391.69 502.70,391.64 504.20,391.59 505.70,391.53 507.20,391.48 508.70,391.42 510.20,391.36 511.70,391.29 513.20,391.23 514.70,391.16 516.20,391.09 517.70,391.02 519.20,390.94 520.70,390.87 522.20,390.79 523.70,390.71 525.20,390.63 526.70,390.54 528.20,390.45 529.70,390.37 531.20,390.27 532.70,390.18" stroke="#1e50f0" stroke-width="1.45" fill="none" stroke-linejoin="round"/>
<polyline points="315.20,364.35 316.70,364.95 318.20,365.55 319.70,366.15 321.20,366.74 322.70,367.34 324.20,367.92 325.70,368.51 327.20,369.08 328.70,369.65 330.20,370.20 331.70,370.73 333.20,371.25 334.70,371.73 336.20,372.19 337.70,372.60 339.20,372.95 340.70,373.24 342.20,373.46 343.70,373.57 345.20,373.58 346.70,373.45 348.20,373.17 349.70,372.71 351.20,372.06 352.70,371.18 354.20,370.06 355.70,368.68 357.20,367.02 358.70,365.07 360.20,362.82 361.70,360.26 363.20,357.40 364.70,354.25 366.20,350.85 367.70,347.21 369.20,343.38 370.70,339.41 372.20,335.35 373.70,331.28 375.20,327.26 376.70,323.37 378.20,319.68 379.70,316.27 381.20,313.20 382.70,310.55 384.20,308.36 385.70,306.69 387.20,305.56 388.70,304.98 390.20,304.95 391.70,305.62 393.20,307.20 394.70,309.64 396.20,312.86 397.70,316.78 399.20,321.27 400.70,326.22 402.20,331.48 403.70,336.93 405.20,342.44 406.70,347.87 408.20,353.14 409.70,358.16 411.20,362.84 412.70,367.16 414.20,371.06 415.70,374.55 417.20,377.61 418.70,380.27 420.20,382.54 421.70,384.45 423.20,386.05 424.70,387.36 426.20,388.42 427.70,389.28 429.20,389.95 430.70,390.48 432.20,390.88 433.70,391.20 435.20,391.43 436.70,391.61 438.20,391.74 439.70,391.83 441.20,391.90 442.70,391.95 444.20,391.99 445.70,392.01 447.20,392.03 448.70,392.04 450.20,392.05 451.70,392.06 453.20,392.07 454.70,392.07 456.20,392.07 457.70,392.07 459.20,392.08 460.70,392.08 462.20,392.08 463.70,392.08 465.20,392.08 466.70,392.08 468.20,392.08 469.70,392.07 471.20,392.06 472.70,392.05 474.20,392.04 475.70,392.03 477.20,392.01 478.70,391.99 480.20,391.97 481.70,391.95 483.20,391.93 484.70,391.90 486.20,391.87 487.70,391.84 489.20,391.80 490.70,391.77 492.20,391.73 493.70,391.69 495.20,391.65 496.70,391.60 498.20,391.56 499.70,391.51 501.20,391.46 502.70,391.40 504.20,391.35 505.70,391.29 507.20,391.23 508.70,391.17 510.20,391.10 511.70,391.04 513.20,390.97 514.70,390.90 516.20,390.83 517.70,390.75 519.20,390.68 520.70,390.60 522.20,390.51 523.70,390.43 525.20,390.35 526.70,390.26 528.20,390.17 529.70,390.08 531.20,389.98 532.70,389.89" stroke="#c080e0" stroke-width="1.45" fill="none" stroke-linejoin="round"/>
<polyline points="315.20,364.03 316.70,364.63 318.20,365.23 319.70,365.83 321.20,366.42 322.70,367.01 324.20,367.59 325.70,368.16 327.20,368.72 328.70,369.27 330.20,369.80 331.70,370.31 333.20,370.79 334.70,371.22 336.20,371.62 337.70,371.95 339.20,372.22 340.70,372.40 342.20,372.48 343.70,372.44 345.20,372.27 346.70,371.93 348.20,371.41 349.70,370.68 351.20,369.72 352.70,368.51 354.20,367.03 355.70,365.26 357.20,363.17 358.70,360.78 360.20,358.06 361.70,355.02 363.20,351.67 364.70,348.04 366.20,344.14 367.70,340.02 369.20,335.72 370.70,331.30 372.20,326.81 373.70,322.33 375.20,317.93 376.70,313.67 378.20,309.65 379.70,305.92 381.20,302.55 382.70,299.62 384.20,297.16 385.70,295.22 387.20,293.83 388.70,292.99 390.20,292.70 391.70,292.95 393.20,294.05 394.70,296.05 396.20,298.91 397.70,302.53 399.20,306.84 400.70,311.71 402.20,317.03 403.70,322.67 405.20,328.50 406.70,334.40 408.20,340.25 409.70,345.95 411.20,351.42 412.70,356.58 414.20,361.37 415.70,365.77 417.20,369.75 418.70,373.30 420.20,376.44 421.70,379.16 423.20,381.50 424.70,383.50 426.20,385.17 427.70,386.56 429.20,387.70 430.70,388.62 432.20,389.36 433.70,389.95 435.20,390.42 436.70,390.78 438.20,391.05 439.70,391.27 441.20,391.43 442.70,391.54 444.20,391.63 445.70,391.70 447.20,391.75 448.70,391.78 450.20,391.80 451.70,391.82 453.20,391.83 454.70,391.84 456.20,391.85 457.70,391.85 459.20,391.86 460.70,391.86 462.20,391.86 463.70,391.86 465.20,391.87 466.70,391.86 468.20,391.86 469.70,391.86 471.20,391.85 472.70,391.84 474.20,391.83 475.70,391.81 477.20,391.80 478.70,391.78 480.20,391.75 481.70,391.73 483.20,391.71 484.70,391.68 486.20,391.65 487.70,391.61 489.20,391.58 490.70,391.54 492.20,391.50 493.70,391.46 495.20,391.42 496.70,391.37 498.20,391.32 499.70,391.27 501.20,391.22 502.70,391.16 504.20,391.11 505.70,391.05 507.20,390.98 508.70,390.92 510.20,390.85 511.70,390.79 513.20,390.71 514.70,390.64 516.20,390.57 517.70,390.49 519.20,390.41 520.70,390.33 522.20,390.24 523.70,390.16 525.20,390.07 526.70,389.98 528.20,389.88 529.70,389.79 531.20,389.69 532.70,389.59" stroke="#8c6ea0" stroke-width="1.45" fill="none" stroke-linejoin="round"/>
<polyline points="315.20,363.71 316.70,364.31 318.20,364.91 319.70,365.50 321.20,366.10 322.70,366.68 324.20,367.26 325.70,367.83 327.20,368.38 328.70,368.92 330.20,369.43 331.70,369.92 333.20,370.37 334.70,370.77 336.20,371.13 337.70,371.41 339.20,371.62 340.70,371.73 342.20,371.73 343.70,371.59 345.20,371.30 346.70,370.84 348.20,370.17 349.70,369.29 351.20,368.15 352.70,366.75 354.20,365.07 355.70,363.07 357.20,360.76 358.70,358.12 360.20,355.16 361.70,351.87 363.20,348.27 364.70,344.39 366.20,340.25 367.70,335.88 369.20,331.35 370.70,326.69 372.20,321.98 373.70,317.29 375.20,312.67 376.70,308.21 378.20,303.98 379.70,300.05 381.20,296.48 382.70,293.34 384.20,290.66 385.70,288.50 387.20,286.88 388.70,285.81 390.20,285.27 391.70,285.24 393.20,285.85 394.70,287.36 396.20,289.74 397.70,292.94 399.20,296.87 400.70,301.44 402.20,306.55 403.70,312.07 405.20,317.89 406.70,323.89 408.20,329.95 409.70,335.96 411.20,341.84 412.70,347.48 414.20,352.84 415.70,357.84 417.20,362.46 418.70,366.67 420.20,370.47 421.70,373.84 423.20,376.81 424.70,379.39 426.20,381.61 427.70,383.50 429.20,385.10 430.70,386.42 432.20,387.52 433.70,388.41 435.20,389.13 436.70,389.71 438.20,390.17 439.70,390.53 441.20,390.80 442.70,391.02 444.20,391.18 445.70,391.31 447.20,391.40 448.70,391.47 450.20,391.52 451.70,391.56 453.20,391.58 454.70,391.60 456.20,391.62 457.70,391.63 459.20,391.64 460.70,391.64 462.20,391.64 463.70,391.65 465.20,391.65 466.70,391.65 468.20,391.65 469.70,391.64 471.20,391.63 472.70,391.62 474.20,391.61 475.70,391.60 477.20,391.58 478.70,391.56 480.20,391.54 481.70,391.51 483.20,391.48 484.70,391.46 486.20,391.42 487.70,391.39 489.20,391.35 490.70,391.32 492.20,391.27 493.70,391.23 495.20,391.19 496.70,391.14 498.20,391.09 499.70,391.04 501.20,390.98 502.70,390.92 504.20,390.86 505.70,390.80 507.20,390.74 508.70,390.67 510.20,390.60 511.70,390.53 513.20,390.46 514.70,390.38 516.20,390.30 517.70,390.22 519.20,390.14 520.70,390.06 522.20,389.97 523.70,389.88 525.20,389.79 526.70,389.69 528.20,389.60 529.70,389.50 531.20,389.40 532.70,389.29" stroke="#c81ee6" stroke-width="1.45" fill="none" stroke-linejoin="round"/>
<polyline points="315.20,363.39 316.70,363.99 318.20,364.59 319.70,365.18 321.20,365.77 322.70,366.35 324.20,366.93 325.70,367.49 327.20,368.03 328.70,368.56 330.20,369.05 331.70,369.52 333.20,369.94 334.70,370.32 336.20,370.63 337.70,370.86 339.20,371.01 340.70,371.05 342.20,370.96 343.70,370.73 345.20,370.34 346.70,369.75 348.20,368.95 349.70,367.91 351.20,366.61 352.70,365.03 354.20,363.15 355.70,360.96 357.20,358.44 358.70,355.60 360.20,352.42 361.70,348.92 363.20,345.12 364.70,341.04 366.20,336.71 367.70,332.18 369.20,327.49 370.70,322.71 372.20,317.89 373.70,313.11 375.20,308.42 376.70,303.92 378.20,299.66 379.70,295.71 381.20,292.14 382.70,289.00 384.20,286.34 385.70,284.20 387.20,282.59 388.70,281.52 390.20,280.98 391.70,280.93 393.20,281.48 394.70,282.90 396.20,285.19 397.70,288.28 399.20,292.10 400.70,296.57 402.20,301.60 403.70,307.06 405.20,312.85 406.70,318.85 408.20,324.95 409.70,331.04 411.20,337.04 412.70,342.84 414.20,348.39 415.70,353.63 417.20,358.50 418.70,362.98 420.20,367.06 421.70,370.73 423.20,373.99 424.70,376.86 426.20,379.36 427.70,381.52 429.20,383.35 430.70,384.90 432.20,386.20 433.70,387.27 435.20,388.15 436.70,388.87 438.20,389.44 439.70,389.90 441.20,390.27 442.70,390.55 444.20,390.77 445.70,390.94 447.20,391.07 448.70,391.17 450.20,391.24 451.70,391.29 453.20,391.33 454.70,391.36 456.20,391.38 457.70,391.40 459.20,391.41 460.70,391.42 462.20,391.43 463.70,391.43 465.20,391.43 466.70,391.43 468.20,391.43 469.70,391.43 471.20,391.42 472.70,391.41 474.20,391.39 475.70,391.38 477.20,391.36 478.70,391.34 480.20,391.32 481.70,391.29 483.20,391.26 484.70,391.23 486.20,391.20 487.70,391.17 489.20,391.13 490.70,391.09 492.20,391.05 493.70,391.00 495.20,390.96 496.70,390.91 498.20,390.85 499.70,390.80 501.20,390.74 502.70,390.68 504.20,390.62 505.70,390.56 507.20,390.49 508.70,390.42 510.20,390.35 511.70,390.28 513.20,390.20 514.70,390.12 516.20,390.04 517.70,389.96 519.20,389.87 520.70,389.79 522.20,389.70 523.70,389.60 525.20,389.51 526.70,389.41 528.20,389.31 529.70,389.21 531.20,389.10 532.70,388.99" stroke="#a01ee6" stroke-width="1.45" fill="none" stroke-linejoin="round"/>
<polyline points="315.20,363.06 316.70,363.66 318.20,364.25 319.70,364.84 321.20,365.42 322.70,366.00 324.20,366.55 325.70,367.10 327.20,367.62 328.70,368.11 330.20,368.57 331.70,368.98 333.20,369.34 334.70,369.64 336.20,369.86 337.70,369.99 339.20,370.01 340.70,369.90 342.20,369.64 343.70,369.21 345.20,368.60 346.70,367.76 348.20,366.69 349.70,365.36 351.20,363.74 352.70,361.82 354.20,359.59 355.70,357.03 357.20,354.14 358.70,350.92 360.20,347.37 361.70,343.50 363.20,339.35 364.70,334.93 366.20,330.29 367.70,325.48 369.20,320.54 370.70,315.54 372.20,310.54 373.70,305.60 375.20,300.79 376.70,296.19 378.20,291.86 379.70,287.86 381.20,284.25 382.70,281.07 384.20,278.38 385.70,276.19 387.20,274.52 388.70,273.39 390.20,272.76 391.70,272.60 393.20,272.91 394.70,274.01 396.20,275.95 397.70,278.68 399.20,282.17 400.70,286.32 402.20,291.06 403.70,296.30 405.20,301.93 406.70,307.85 408.20,313.95 409.70,320.15 411.20,326.33 412.70,332.42 414.20,338.33 415.70,344.00 417.20,349.38 418.70,354.43 420.20,359.10 421.70,363.40 423.20,367.29 424.70,370.80 426.20,373.92 427.70,376.67 429.20,379.08 430.70,381.16 432.20,382.95 433.70,384.47 435.20,385.75 436.70,386.82 438.20,387.71 439.70,388.44 441.20,389.03 442.70,389.51 444.20,389.90 445.70,390.20 447.20,390.44 448.70,390.63 450.20,390.78 451.70,390.89 453.20,390.98 454.70,391.04 456.20,391.09 457.70,391.13 459.20,391.15 460.70,391.17 462.20,391.19 463.70,391.20 465.20,391.21 466.70,391.21 468.20,391.21 469.70,391.21 471.20,391.20 472.70,391.19 474.20,391.18 475.70,391.16 477.20,391.14 478.70,391.12 480.20,391.10 481.70,391.07 483.20,391.04 484.70,391.01 486.20,390.98 487.70,390.94 489.20,390.90 490.70,390.86 492.20,390.82 493.70,390.77 495.20,390.72 496.70,390.67 498.20,390.62 499.70,390.56 501.20,390.50 502.70,390.44 504.20,390.38 505.70,390.31 507.20,390.25 508.70,390.17 510.20,390.10 511.70,390.02 513.20,389.95 514.70,389.86 516.20,389.78 517.70,389.70 519.20,389.61 520.70,389.52 522.20,389.42 523.70,389.33 525.20,389.23 526.70,389.13 528.20,389.02 529.70,388.92 531.20,388.81 532.70,388.70" stroke="#a01e96" stroke-width="1.45" fill="none" stroke-linejoin="round"/>
<polyline points="315.20,362.72 316.70,363.31 318.20,363.90 319.70,364.48 321.20,365.04 322.70,365.59 324.20,366.13 325.70,366.63 327.20,367.11 328.70,367.55 330.20,367.94 331.70,368.27 333.20,368.54 334.70,368.72 336.20,368.81 337.70,368.78 339.20,368.62 340.70,368.30 342.20,367.82 343.70,367.13 345.20,366.23 346.70,365.08 348.20,363.68 349.70,361.99 351.20,359.99 352.70,357.69 354.20,355.05 355.70,352.08 357.20,348.78 358.70,345.14 360.20,341.19 361.70,336.94 363.20,332.41 364.70,327.63 366.20,322.66 367.70,317.53 369.20,312.30 370.70,307.02 372.20,301.75 373.70,296.56 375.20,291.50 376.70,286.65 378.20,282.06 379.70,277.79 381.20,273.89 382.70,270.40 384.20,267.36 385.70,264.79 387.20,262.72 388.70,261.14 390.20,260.04 391.70,259.41 393.20,259.20 394.70,259.34 396.20,260.15 397.70,261.78 399.20,264.23 400.70,267.43 402.20,271.33 403.70,275.86 405.20,280.95 406.70,286.49 408.20,292.41 409.70,298.60 411.20,304.97 412.70,311.42 414.20,317.88 415.70,324.25 417.20,330.47 418.70,336.46 420.20,342.19 421.70,347.60 423.20,352.67 424.70,357.37 426.20,361.69 427.70,365.62 429.20,369.16 430.70,372.34 432.20,375.16 433.70,377.64 435.20,379.81 436.70,381.68 438.20,383.30 439.70,384.67 441.20,385.84 442.70,386.82 444.20,387.63 445.70,388.31 447.20,388.86 448.70,389.31 450.20,389.68 451.70,389.97 453.20,390.21 454.70,390.39 456.20,390.54 457.70,390.65 459.20,390.74 460.70,390.81 462.20,390.86 463.70,390.90 465.20,390.93 466.70,390.95 468.20,390.96 469.70,390.97 471.20,390.97 472.70,390.96 474.20,390.95 475.70,390.94 477.20,390.92 478.70,390.90 480.20,390.88 481.70,390.85 483.20,390.82 484.70,390.79 486.20,390.76 487.70,390.72 489.20,390.68 490.70,390.64 492.20,390.59 493.70,390.54 495.20,390.49 496.70,390.44 498.20,390.39 499.70,390.33 501.20,390.27 502.70,390.20 504.20,390.14 505.70,390.07 507.20,390.00 508.70,389.93 510.20,389.85 511.70,389.77 513.20,389.69 514.70,389.61 516.20,389.52 517.70,389.43 519.20,389.34 520.70,389.25 522.20,389.15 523.70,389.05 525.20,388.95 526.70,388.84 528.20,388.74 529.70,388.63 531.20,388.52 532.70,388.40" stroke="#6482c8" stroke-width="1.45" fill="none" stroke-linejoin="round"/>
<polyline points="315.20,362.37 316.70,362.96 318.20,363.54 319.70,364.10 321.20,364.65 322.70,365.18 324.20,365.69 325.70,366.16 327.20,366.59 328.70,366.98 330.20,367.31 331.70,367.57 333.20,367.74 334.70,367.82 336.20,367.78 337.70,367.61 339.20,367.29 340.70,366.80 342.20,366.11 343.70,365.21 345.20,364.07 346.70,362.66 348.20,360.98 349.70,359.01 351.20,356.72 352.70,354.10 354.20,351.16 355.70,347.88 357.20,344.27 358.70,340.33 360.20,336.09 361.70,331.57 363.20,326.78 364.70,321.78 366.20,316.60 367.70,311.28 369.20,305.88 370.70,300.46 372.20,295.07 373.70,289.77 375.20,284.62 376.70,279.69 378.20,275.01 379.70,270.66 381.20,266.66 382.70,263.07 384.20,259.90 385.70,257.20 387.20,254.96 388.70,253.19 390.20,251.89 391.70,251.04 393.20,250.59 394.70,250.51 396.20,250.73 397.70,251.63 399.20,253.28 400.70,255.66 402.20,258.74 403.70,262.45 405.20,266.76 406.70,271.59 408.20,276.86 409.70,282.51 411.20,288.45 412.70,294.61 414.20,300.90 415.70,307.25 417.20,313.59 418.70,319.85 420.20,325.96 421.70,331.88 423.20,337.56 424.70,342.96 426.20,348.05 427.70,352.82 429.20,357.24 430.70,361.32 432.20,365.04 433.70,368.42 435.20,371.47 436.70,374.19 438.20,376.61 439.70,378.75 441.20,380.62 442.70,382.25 444.20,383.66 445.70,384.87 447.20,385.90 448.70,386.78 450.20,387.51 451.70,388.13 453.20,388.64 454.70,389.07 456.20,389.42 457.70,389.70 459.20,389.93 460.70,390.12 462.20,390.27 463.70,390.38 465.20,390.48 466.70,390.55 468.20,390.60 469.70,390.64 471.20,390.67 472.70,390.68 474.20,390.69 475.70,390.69 477.20,390.68 478.70,390.66 480.20,390.65 481.70,390.62 483.20,390.59 484.70,390.56 486.20,390.53 487.70,390.49 489.20,390.45 490.70,390.41 492.20,390.36 493.70,390.31 495.20,390.26 496.70,390.21 498.20,390.15 499.70,390.09 501.20,390.03 502.70,389.96 504.20,389.90 505.70,389.83 507.20,389.75 508.70,389.68 510.20,389.60 511.70,389.52 513.20,389.43 514.70,389.35 516.20,389.26 517.70,389.17 519.20,389.07 520.70,388.98 522.20,388.88 523.70,388.77 525.20,388.67 526.70,388.56 528.20,388.45 529.70,388.34 531.20,388.22 532.70,388.10" stroke="#1e1e96" stroke-width="1.45" fill="none" stroke-linejoin="round"/>
<path d="M315.50,363.10 C318.72,364.00 329.77,366.87 334.80,368.50 C339.83,370.13 342.07,371.35 345.70,372.90 C349.33,374.45 352.55,376.03 356.60,377.80 C360.65,379.57 365.65,381.92 370.00,383.50 C374.35,385.08 378.45,386.18 382.70,387.30 C386.95,388.42 391.25,389.35 395.50,390.20 C399.75,391.05 403.97,391.83 408.20,392.40 C412.43,392.97 415.60,393.18 420.90,393.60 C426.20,394.02 431.82,394.58 440.00,394.90 C448.18,395.22 460.00,395.43 470.00,395.50 C480.00,395.57 489.33,395.47 500.00,395.30 C510.67,395.13 528.33,394.63 534.00,394.50" stroke="#dc2070" stroke-width="1.3" fill="none" stroke-linejoin="round" stroke-linecap="round" />
</g>
<rect x="435.4" y="251.3" width="91.60000000000002" height="67.89999999999998" fill="#fff" stroke="#8a8a8a" stroke-width="1"/>
<text x="434.3" y="257.1" font-family="Liberation Sans" font-size="6.1" font-weight="bold" fill="#222" text-anchor="end" >100</text>
<text x="434.3" y="301.3" font-family="Liberation Sans" font-size="6.1" font-weight="bold" fill="#222" text-anchor="end" >50</text>
<text x="435.5" y="325.6" font-family="Liberation Sans" font-size="6.5" font-weight="bold" fill="#222" text-anchor="middle" >0</text>
<text x="479.7" y="325.6" font-family="Liberation Sans" font-size="6.5" font-weight="bold" fill="#222" text-anchor="middle" >100</text>
<text x="527.0" y="325.6" font-family="Liberation Sans" font-size="6.5" font-weight="bold" fill="#222" text-anchor="middle" >200</text>
<text x="481" y="337.4" font-family="Liberation Sans" font-size="6.8" font-weight="bold" fill="#222" text-anchor="middle" >Dopamine(&#956;M)</text>
<text x="420.6" y="285.2" font-family="Liberation Sans" font-size="6.2" font-weight="bold" fill="#222" text-anchor="middle" transform="rotate(-90 420.6 285.2)" >Current(&#956;A)</text>
<line x1="435.4" y1="299.10" x2="437.4" y2="299.10" stroke="#888" stroke-width="0.8"/>
<line x1="435.4" y1="254.70" x2="437.4" y2="254.70" stroke="#888" stroke-width="0.8"/>
<line x1="481.25" y1="319.2" x2="481.25" y2="317.2" stroke="#888" stroke-width="0.8"/>
<line x1="436.5" y1="319" x2="467.4" y2="279" stroke="#e83030" stroke-width="1.1"/>
<line x1="467.4" y1="279" x2="518.3" y2="257.7" stroke="#5a78f0" stroke-width="1.1"/>
<rect x="435.50" y="316.70" width="3.0" height="3.0" fill="#111"/>
<rect x="437.20" y="314.70" width="3.0" height="3.0" fill="#111"/>
<rect x="439.00" y="312.10" width="3.0" height="3.0" fill="#111"/>
<rect x="440.90" y="309.60" width="3.0" height="3.0" fill="#111"/>
<rect x="442.70" y="307.20" width="3.0" height="3.0" fill="#111"/>
<rect x="444.50" y="304.80" width="3.0" height="3.0" fill="#111"/>
<rect x="447.70" y="301.40" width="3.0" height="3.0" fill="#111"/>
<rect x="452.00" y="295.90" width="3.0" height="3.0" fill="#111"/>
<rect x="456.30" y="290.50" width="3.0" height="3.0" fill="#111"/>
<rect x="461.70" y="284.10" width="3.0" height="3.0" fill="#111"/>
<rect x="465.90" y="277.50" width="3.0" height="3.0" fill="#111"/>
<rect x="475.20" y="274.40" width="3.0" height="3.0" fill="#111"/>
<rect x="479.90" y="272.30" width="3.0" height="3.0" fill="#111"/>
<rect x="488.90" y="268.10" width="3.0" height="3.0" fill="#111"/>
<rect x="503.10" y="261.00" width="3.0" height="3.0" fill="#111"/>
<rect x="516.80" y="256.20" width="3.0" height="3.0" fill="#111"/>
</svg>
</body></html>
